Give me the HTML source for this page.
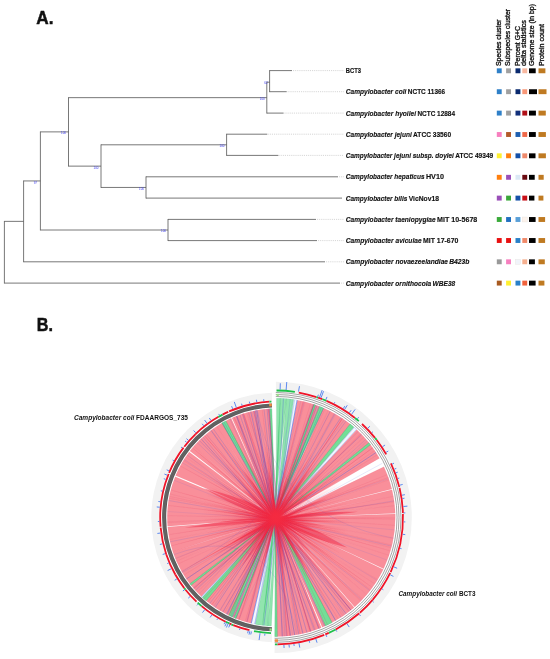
<!DOCTYPE html>
<html><head><meta charset="utf-8"><title>Figure</title>
<style>html,body{margin:0;padding:0;background:#fff}svg{display:block}</style></head>
<body><svg width="550" height="659" viewBox="0 0 550 659">
<rect width="550" height="659" fill="#fff"/>
<g id="tree">
<line x1="4.4" y1="220.97187499999998" x2="4.4" y2="283.5" stroke="#555" stroke-width="0.8"/>
<line x1="4.4" y1="221.371875" x2="23.6" y2="221.371875" stroke="#555" stroke-width="0.8"/>
<line x1="4.4" y1="283.1" x2="340" y2="283.1" stroke="#555" stroke-width="0.8"/>
<line x1="23.6" y1="180.54375" x2="23.6" y2="262.2" stroke="#555" stroke-width="0.8"/>
<line x1="23.6" y1="261.8" x2="325" y2="261.8" stroke="#555" stroke-width="0.8"/>
<line x1="23.6" y1="180.94375" x2="40.4" y2="180.94375" stroke="#555" stroke-width="0.8"/>
<line x1="40.4" y1="131.48749999999998" x2="40.4" y2="230.4" stroke="#555" stroke-width="0.8"/>
<line x1="40.4" y1="230.0" x2="168" y2="230.0" stroke="#555" stroke-width="0.8"/>
<line x1="168" y1="219.0" x2="168" y2="241.0" stroke="#555" stroke-width="0.8"/>
<line x1="168" y1="219.4" x2="316" y2="219.4" stroke="#555" stroke-width="0.8"/>
<line x1="168" y1="240.6" x2="317" y2="240.6" stroke="#555" stroke-width="0.8"/>
<line x1="40.4" y1="131.8875" x2="68.5" y2="131.8875" stroke="#555" stroke-width="0.8"/>
<line x1="68.5" y1="97.25" x2="68.5" y2="166.525" stroke="#555" stroke-width="0.8"/>
<line x1="68.5" y1="97.65" x2="266.8" y2="97.65" stroke="#555" stroke-width="0.8"/>
<line x1="266.8" y1="81.8" x2="266.8" y2="113.5" stroke="#555" stroke-width="0.8"/>
<line x1="266.8" y1="113.1" x2="283.6" y2="113.1" stroke="#555" stroke-width="0.8"/>
<line x1="266.8" y1="82.2" x2="269.6" y2="82.2" stroke="#555" stroke-width="0.8"/>
<line x1="269.6" y1="70.19999999999999" x2="269.6" y2="92.10000000000001" stroke="#555" stroke-width="0.8"/>
<line x1="269.6" y1="70.6" x2="292" y2="70.6" stroke="#555" stroke-width="0.8"/>
<line x1="269.6" y1="91.7" x2="286.7" y2="91.7" stroke="#555" stroke-width="0.8"/>
<line x1="68.5" y1="166.125" x2="101" y2="166.125" stroke="#555" stroke-width="0.8"/>
<line x1="101" y1="144.4" x2="101" y2="187.85" stroke="#555" stroke-width="0.8"/>
<line x1="101" y1="144.8" x2="226.6" y2="144.8" stroke="#555" stroke-width="0.8"/>
<line x1="226.6" y1="133.79999999999998" x2="226.6" y2="155.8" stroke="#555" stroke-width="0.8"/>
<line x1="226.6" y1="134.2" x2="267.3" y2="134.2" stroke="#555" stroke-width="0.8"/>
<line x1="226.6" y1="155.4" x2="278.4" y2="155.4" stroke="#555" stroke-width="0.8"/>
<line x1="101" y1="187.45" x2="146" y2="187.45" stroke="#555" stroke-width="0.8"/>
<line x1="146" y1="176.4" x2="146" y2="198.5" stroke="#555" stroke-width="0.8"/>
<line x1="146" y1="176.8" x2="338" y2="176.8" stroke="#555" stroke-width="0.8"/>
<line x1="146" y1="198.1" x2="342" y2="198.1" stroke="#555" stroke-width="0.8"/>
</g>
<line x1="293" y1="70.6" x2="344" y2="70.6" stroke="#bdbdbd" stroke-width="0.7" stroke-dasharray="0.9 1.0"/>
<line x1="287.7" y1="91.7" x2="344" y2="91.7" stroke="#bdbdbd" stroke-width="0.7" stroke-dasharray="0.9 1.0"/>
<line x1="284.6" y1="113.1" x2="344" y2="113.1" stroke="#bdbdbd" stroke-width="0.7" stroke-dasharray="0.9 1.0"/>
<line x1="268.3" y1="134.2" x2="344" y2="134.2" stroke="#bdbdbd" stroke-width="0.7" stroke-dasharray="0.9 1.0"/>
<line x1="279.4" y1="155.4" x2="344" y2="155.4" stroke="#bdbdbd" stroke-width="0.7" stroke-dasharray="0.9 1.0"/>
<line x1="339" y1="176.8" x2="344" y2="176.8" stroke="#bdbdbd" stroke-width="0.7" stroke-dasharray="0.9 1.0"/>
<line x1="317" y1="219.4" x2="344" y2="219.4" stroke="#bdbdbd" stroke-width="0.7" stroke-dasharray="0.9 1.0"/>
<line x1="318" y1="240.6" x2="344" y2="240.6" stroke="#bdbdbd" stroke-width="0.7" stroke-dasharray="0.9 1.0"/>
<line x1="326" y1="261.8" x2="344" y2="261.8" stroke="#bdbdbd" stroke-width="0.7" stroke-dasharray="0.9 1.0"/>
<line x1="341" y1="283.1" x2="344" y2="283.1" stroke="#bdbdbd" stroke-width="0.7" stroke-dasharray="0.9 1.0"/>
<text x="267.6" y="84.0" font-size="3" fill="#3a3af0" text-anchor="end" font-family="Liberation Sans, sans-serif">62</text>
<text x="264.8" y="100.0" font-size="3" fill="#3a3af0" text-anchor="end" font-family="Liberation Sans, sans-serif">100</text>
<text x="66.0" y="134.3" font-size="3" fill="#3a3af0" text-anchor="end" font-family="Liberation Sans, sans-serif">100</text>
<text x="98.5" y="168.8" font-size="3" fill="#3a3af0" text-anchor="end" font-family="Liberation Sans, sans-serif">100</text>
<text x="224.5" y="147.0" font-size="3" fill="#3a3af0" text-anchor="end" font-family="Liberation Sans, sans-serif">100</text>
<text x="144.0" y="190.0" font-size="3" fill="#3a3af0" text-anchor="end" font-family="Liberation Sans, sans-serif">100</text>
<text x="166.0" y="232.3" font-size="3" fill="#3a3af0" text-anchor="end" font-family="Liberation Sans, sans-serif">100</text>
<text x="37.0" y="183.5" font-size="3" fill="#3a3af0" text-anchor="end" font-family="Liberation Sans, sans-serif">97</text>
<text x="345.8" y="73.0" font-size="8.1" font-weight="bold" font-style="normal" fill="#111" stroke="#111" stroke-width="0.15" textLength="15.2" lengthAdjust="spacingAndGlyphs" font-family="Liberation Sans, sans-serif">BCT3</text>
<text x="345.8" y="94.10000000000001" font-size="8.1" font-weight="bold" font-style="italic" fill="#111" stroke="#111" stroke-width="0.15" textLength="60.5" lengthAdjust="spacingAndGlyphs" font-family="Liberation Sans, sans-serif">Campylobacter coli</text>
<text x="407.8" y="94.10000000000001" font-size="8.1" font-weight="bold" font-style="normal" fill="#111" stroke="#111" stroke-width="0.15" textLength="37.4" lengthAdjust="spacingAndGlyphs" font-family="Liberation Sans, sans-serif">NCTC 11366</text>
<text x="345.8" y="115.5" font-size="8.1" font-weight="bold" font-style="italic" fill="#111" stroke="#111" stroke-width="0.15" textLength="70.2" lengthAdjust="spacingAndGlyphs" font-family="Liberation Sans, sans-serif">Campylobacter hyoilei</text>
<text x="417.4" y="115.5" font-size="8.1" font-weight="bold" font-style="normal" fill="#111" stroke="#111" stroke-width="0.15" textLength="37.6" lengthAdjust="spacingAndGlyphs" font-family="Liberation Sans, sans-serif">NCTC 12884</text>
<text x="345.8" y="136.6" font-size="8.1" font-weight="bold" font-style="italic" fill="#111" stroke="#111" stroke-width="0.15" textLength="65.9" lengthAdjust="spacingAndGlyphs" font-family="Liberation Sans, sans-serif">Campylobacter jejuni</text>
<text x="413.1" y="136.6" font-size="8.1" font-weight="bold" font-style="normal" fill="#111" stroke="#111" stroke-width="0.15" textLength="38.0" lengthAdjust="spacingAndGlyphs" font-family="Liberation Sans, sans-serif">ATCC 33560</text>
<text x="345.8" y="157.8" font-size="8.1" font-weight="bold" font-style="italic" fill="#111" stroke="#111" stroke-width="0.15" textLength="108.1" lengthAdjust="spacingAndGlyphs" font-family="Liberation Sans, sans-serif">Campylobacter jejuni subsp. doylei</text>
<text x="455.3" y="157.8" font-size="8.1" font-weight="bold" font-style="normal" fill="#111" stroke="#111" stroke-width="0.15" textLength="38.0" lengthAdjust="spacingAndGlyphs" font-family="Liberation Sans, sans-serif">ATCC 49349</text>
<text x="345.8" y="179.20000000000002" font-size="8.1" font-weight="bold" font-style="italic" fill="#111" stroke="#111" stroke-width="0.15" textLength="78.7" lengthAdjust="spacingAndGlyphs" font-family="Liberation Sans, sans-serif">Campylobacter hepaticus</text>
<text x="425.9" y="179.20000000000002" font-size="8.1" font-weight="bold" font-style="normal" fill="#111" stroke="#111" stroke-width="0.15" textLength="18.0" lengthAdjust="spacingAndGlyphs" font-family="Liberation Sans, sans-serif">HV10</text>
<text x="345.8" y="200.5" font-size="8.1" font-weight="bold" font-style="italic" fill="#111" stroke="#111" stroke-width="0.15" textLength="61.5" lengthAdjust="spacingAndGlyphs" font-family="Liberation Sans, sans-serif">Campylobacter bilis</text>
<text x="408.7" y="200.5" font-size="8.1" font-weight="bold" font-style="normal" fill="#111" stroke="#111" stroke-width="0.15" textLength="30.2" lengthAdjust="spacingAndGlyphs" font-family="Liberation Sans, sans-serif">VicNov18</text>
<text x="345.8" y="221.8" font-size="8.1" font-weight="bold" font-style="italic" fill="#111" stroke="#111" stroke-width="0.15" textLength="89.8" lengthAdjust="spacingAndGlyphs" font-family="Liberation Sans, sans-serif">Campylobacter taeniopygiae</text>
<text x="437.0" y="221.8" font-size="8.1" font-weight="bold" font-style="normal" fill="#111" stroke="#111" stroke-width="0.15" textLength="40.3" lengthAdjust="spacingAndGlyphs" font-family="Liberation Sans, sans-serif">MIT 10-5678</text>
<text x="345.8" y="243.0" font-size="8.1" font-weight="bold" font-style="italic" fill="#111" stroke="#111" stroke-width="0.15" textLength="75.8" lengthAdjust="spacingAndGlyphs" font-family="Liberation Sans, sans-serif">Campylobacter aviculae</text>
<text x="423.0" y="243.0" font-size="8.1" font-weight="bold" font-style="normal" fill="#111" stroke="#111" stroke-width="0.15" textLength="35.4" lengthAdjust="spacingAndGlyphs" font-family="Liberation Sans, sans-serif">MIT 17-670</text>
<text x="345.8" y="264.2" font-size="8.1" font-weight="bold" font-style="italic" fill="#111" stroke="#111" stroke-width="0.15" textLength="102.2" lengthAdjust="spacingAndGlyphs" font-family="Liberation Sans, sans-serif">Campylobacter novaezeelandiae</text>
<text x="449.2" y="264.2" font-size="8.1" font-weight="bold" font-style="italic" fill="#111" stroke="#111" stroke-width="0.15" textLength="20.3" lengthAdjust="spacingAndGlyphs" font-family="Liberation Sans, sans-serif">B423b</text>
<text x="345.8" y="285.5" font-size="8.1" font-weight="bold" font-style="italic" fill="#111" stroke="#111" stroke-width="0.15" textLength="85.5" lengthAdjust="spacingAndGlyphs" font-family="Liberation Sans, sans-serif">Campylobacter ornithocola</text>
<text x="432.6" y="285.5" font-size="8.1" font-weight="bold" font-style="italic" fill="#111" stroke="#111" stroke-width="0.15" textLength="22.6" lengthAdjust="spacingAndGlyphs" font-family="Liberation Sans, sans-serif">WBE38</text>
<text transform="translate(501.2,66) rotate(-90)" font-size="6.7" fill="#111" stroke="#111" stroke-width="0.32" textLength="46.5" lengthAdjust="spacingAndGlyphs" font-family="Liberation Sans, sans-serif">Species cluster</text>
<text transform="translate(510.4,66) rotate(-90)" font-size="6.7" fill="#111" stroke="#111" stroke-width="0.32" textLength="57" lengthAdjust="spacingAndGlyphs" font-family="Liberation Sans, sans-serif">Subspecies cluster</text>
<text transform="translate(519.8,66) rotate(-90)" font-size="6.7" fill="#111" stroke="#111" stroke-width="0.32" textLength="40" lengthAdjust="spacingAndGlyphs" font-family="Liberation Sans, sans-serif">Percent G+C</text>
<text transform="translate(526.4,66) rotate(-90)" font-size="6.7" fill="#111" stroke="#111" stroke-width="0.32" textLength="46" lengthAdjust="spacingAndGlyphs" font-family="Liberation Sans, sans-serif">delta statistics</text>
<text transform="translate(534.2,66) rotate(-90)" font-size="6.7" fill="#111" stroke="#111" stroke-width="0.32" textLength="62" lengthAdjust="spacingAndGlyphs" font-family="Liberation Sans, sans-serif">Genome size (in bp)</text>
<text transform="translate(543.6,66) rotate(-90)" font-size="6.7" fill="#111" stroke="#111" stroke-width="0.32" textLength="42" lengthAdjust="spacingAndGlyphs" font-family="Liberation Sans, sans-serif">Protein count</text>
<rect x="496.8" y="68.35" width="4.9" height="4.9" fill="#2f80c8"/>
<rect x="506.1" y="68.35" width="4.9" height="4.9" fill="#a0a0a0"/>
<rect x="515.5" y="68.35" width="4.9" height="4.9" fill="#0a2a6e"/>
<rect x="522.3" y="68.35" width="4.9" height="4.9" fill="#f8b8a0"/>
<rect x="529.0" y="68.35" width="6.7" height="4.9" fill="#000"/>
<rect x="538.5" y="68.35" width="6.9" height="4.9" fill="#bf7a22"/>
<rect x="496.8" y="89.25" width="4.9" height="4.9" fill="#2f80c8"/>
<rect x="506.1" y="89.25" width="4.9" height="4.9" fill="#a0a0a0"/>
<rect x="515.5" y="89.25" width="4.9" height="4.9" fill="#0a2a6e"/>
<rect x="522.3" y="89.25" width="4.9" height="4.9" fill="#f89878"/>
<rect x="529.0" y="89.25" width="8.0" height="4.9" fill="#000"/>
<rect x="538.5" y="89.25" width="8.0" height="4.9" fill="#bf7a22"/>
<rect x="496.8" y="110.65" width="4.9" height="4.9" fill="#2f80c8"/>
<rect x="506.1" y="110.65" width="4.9" height="4.9" fill="#a0a0a0"/>
<rect x="515.5" y="110.65" width="4.9" height="4.9" fill="#12307a"/>
<rect x="522.3" y="110.65" width="4.9" height="4.9" fill="#b01018"/>
<rect x="529.0" y="110.65" width="6.9" height="4.9" fill="#000"/>
<rect x="538.5" y="110.65" width="7.3" height="4.9" fill="#bf7a22"/>
<rect x="496.8" y="132.05" width="4.9" height="4.9" fill="#f77fbf"/>
<rect x="506.1" y="132.05" width="4.9" height="4.9" fill="#b35a28"/>
<rect x="515.5" y="132.05" width="4.9" height="4.9" fill="#1e5fb0"/>
<rect x="522.3" y="132.05" width="4.9" height="4.9" fill="#f0694a"/>
<rect x="529.0" y="132.05" width="6.8" height="4.9" fill="#000"/>
<rect x="538.5" y="132.05" width="7.4" height="4.9" fill="#bf7a22"/>
<rect x="496.8" y="153.35" width="4.9" height="4.9" fill="#fff030"/>
<rect x="506.1" y="153.35" width="4.9" height="4.9" fill="#ff7f0e"/>
<rect x="515.5" y="153.35" width="4.9" height="4.9" fill="#1550a8"/>
<rect x="522.3" y="153.35" width="4.9" height="4.9" fill="#ee8a6c"/>
<rect x="529.0" y="153.35" width="6.5" height="4.9" fill="#000"/>
<rect x="538.5" y="153.35" width="7.4" height="4.9" fill="#bf7a22"/>
<rect x="496.8" y="174.85" width="4.9" height="4.9" fill="#ff7f0e"/>
<rect x="506.1" y="174.85" width="4.9" height="4.9" fill="#9a4fb8"/>
<rect x="515.5" y="174.85" width="4.9" height="4.9" fill="#dbe8f5"/>
<rect x="522.3" y="174.85" width="4.9" height="4.9" fill="#6a0a10"/>
<rect x="529.0" y="174.85" width="5.7" height="4.9" fill="#000"/>
<rect x="538.5" y="174.85" width="5.2" height="4.9" fill="#bf7a22"/>
<rect x="496.8" y="195.65" width="4.9" height="4.9" fill="#9a4fb8"/>
<rect x="506.1" y="195.65" width="4.9" height="4.9" fill="#3aa83a"/>
<rect x="515.5" y="195.65" width="4.9" height="4.9" fill="#1550a8"/>
<rect x="522.3" y="195.65" width="4.9" height="4.9" fill="#c81018"/>
<rect x="529.0" y="195.65" width="5.4" height="4.9" fill="#000"/>
<rect x="538.5" y="195.65" width="4.9" height="4.9" fill="#bf7a22"/>
<rect x="496.8" y="217.05" width="4.9" height="4.9" fill="#3aaa3a"/>
<rect x="506.1" y="217.05" width="4.9" height="4.9" fill="#2070c0"/>
<rect x="515.5" y="217.05" width="4.9" height="4.9" fill="#5aa0d8"/>
<rect x="522.3" y="217.05" width="4.9" height="4.9" fill="#fdf3ec" stroke="#e6e2de" stroke-width="0.4"/>
<rect x="529.0" y="217.05" width="6.6" height="4.9" fill="#000"/>
<rect x="538.5" y="217.05" width="6.6" height="4.9" fill="#bf7a22"/>
<rect x="496.8" y="238.05" width="4.9" height="4.9" fill="#e81010"/>
<rect x="506.1" y="238.05" width="4.9" height="4.9" fill="#e81010"/>
<rect x="515.5" y="238.05" width="4.9" height="4.9" fill="#2a80c8"/>
<rect x="522.3" y="238.05" width="4.9" height="4.9" fill="#f08a6a"/>
<rect x="529.0" y="238.05" width="6.6" height="4.9" fill="#000"/>
<rect x="538.5" y="238.05" width="6.6" height="4.9" fill="#bf7a22"/>
<rect x="496.8" y="259.35" width="4.9" height="4.9" fill="#999999"/>
<rect x="506.1" y="259.35" width="4.9" height="4.9" fill="#f77fbf"/>
<rect x="515.5" y="259.35" width="4.9" height="4.9" fill="#f1f4fa" stroke="#e6e2de" stroke-width="0.4"/>
<rect x="522.3" y="259.35" width="4.9" height="4.9" fill="#f5b090"/>
<rect x="529.0" y="259.35" width="5.9" height="4.9" fill="#000"/>
<rect x="538.5" y="259.35" width="6.3" height="4.9" fill="#bf7a22"/>
<rect x="496.8" y="280.65" width="4.9" height="4.9" fill="#a85a20"/>
<rect x="506.1" y="280.65" width="4.9" height="4.9" fill="#fff030"/>
<rect x="515.5" y="280.65" width="4.9" height="4.9" fill="#2a80c8"/>
<rect x="522.3" y="280.65" width="4.9" height="4.9" fill="#f0623c"/>
<rect x="529.0" y="280.65" width="6.6" height="4.9" fill="#000"/>
<rect x="538.5" y="280.65" width="5.9" height="4.9" fill="#bf7a22"/>
<text x="36.3" y="24.1" font-size="17.6" font-weight="bold" fill="#111" stroke="#111" stroke-width="0.45" textLength="17.2" lengthAdjust="spacingAndGlyphs" font-family="Liberation Sans, sans-serif">A.</text>
<text x="36.8" y="331.4" font-size="17.6" font-weight="bold" fill="#111" stroke="#111" stroke-width="0.45" textLength="16.2" lengthAdjust="spacingAndGlyphs" font-family="Liberation Sans, sans-serif">B.</text>
<text x="74" y="420.4" font-size="8.1" font-weight="bold" fill="#111" textLength="114" lengthAdjust="spacingAndGlyphs" xml:space="preserve" font-family="Liberation Sans, sans-serif"><tspan font-style="italic">Campylobacter coli</tspan> FDAARGOS_735</text>
<text x="398.5" y="595.8" font-size="8.1" font-weight="bold" fill="#111" textLength="77" lengthAdjust="spacingAndGlyphs" xml:space="preserve" font-family="Liberation Sans, sans-serif"><tspan font-style="italic">Campylobacter coli</tspan> BCT3</text>
<defs><clipPath id="cl"><rect x="0" y="300" width="271.9" height="359"/></clipPath><clipPath id="cr"><polygon points="275.95,370 560,370 560,659 274.55,659"/></clipPath><clipPath id="call"><rect x="0" y="300" width="271.9" height="359"/><polygon points="275.95,370 560,370 560,659 274.55,659"/></clipPath></defs>
<g clip-path="url(#cl)">
<circle cx="276.1" cy="517.4" r="124.8" fill="#f2f2f2"/>
<circle cx="276.1" cy="517.4" r="115.2" fill="#fff"/>
<circle cx="276.1" cy="517.4" r="111.95" fill="none" stroke="#5c5c5c" stroke-width="4.099999999999994"/>
<circle cx="276.1" cy="517.4" r="111.5" fill="none" stroke="#7a7a7a" stroke-width="0.35"/>
<circle cx="276.1" cy="517.4" r="113.10000000000001" fill="none" stroke="#7a7a7a" stroke-width="0.35"/>
</g>
<g clip-path="url(#cr)">
<circle cx="276.1" cy="517.4" r="135.7" fill="#f2f2f2"/>
<circle cx="276.1" cy="517.4" r="126.2" fill="#fff"/>
<circle cx="276.1" cy="517.4" r="120.95" fill="none" stroke="#585858" stroke-width="0.55"/>
<circle cx="276.1" cy="517.4" r="122.92500000000001" fill="none" stroke="#585858" stroke-width="0.55"/>
<circle cx="276.1" cy="517.4" r="124.9" fill="none" stroke="#585858" stroke-width="0.55"/>
</g>
<g clip-path="url(#call)">
<path d="M276.54 390.50A126.9 126.9 0 0 1 294.86 391.89" fill="none" stroke="#1fc04a" stroke-width="1.7999999999999972" />
<path d="M271.04 633.19A115.9 115.9 0 0 1 253.99 631.17" fill="none" stroke="#1fc04a" stroke-width="1.7999999999999972" />
<path d="M298.79 392.54A126.9 126.9 0 0 1 316.37 397.06" fill="none" stroke="#f01428" stroke-width="1.7999999999999972" />
<path d="M249.44 630.19A115.9 115.9 0 0 1 233.25 625.09" fill="none" stroke="#f01428" stroke-width="1.7999999999999972" />
<path d="M316.37 397.06A126.9 126.9 0 0 1 318.04 397.63" fill="none" stroke="#1fc04a" stroke-width="1.7999999999999972" />
<path d="M233.25 625.09A115.9 115.9 0 0 1 231.37 624.32" fill="none" stroke="#1fc04a" stroke-width="1.7999999999999972" />
<path d="M318.04 397.63A126.9 126.9 0 0 1 322.40 399.25" fill="none" stroke="#f01428" stroke-width="1.7999999999999972" />
<path d="M231.37 624.32A115.9 115.9 0 0 1 229.33 623.44" fill="none" stroke="#f01428" stroke-width="1.7999999999999972" />
<path d="M322.40 399.25A126.9 126.9 0 0 1 326.50 400.94" fill="none" stroke="#1fc04a" stroke-width="1.7999999999999972" />
<path d="M229.33 623.44A115.9 115.9 0 0 1 225.66 621.75" fill="none" stroke="#1fc04a" stroke-width="1.7999999999999972" />
<path d="M326.50 400.94A126.9 126.9 0 0 1 354.92 417.95" fill="none" stroke="#f01428" stroke-width="1.7999999999999972" />
<path d="M225.66 621.75A115.9 115.9 0 0 1 201.60 606.18" fill="none" stroke="#f01428" stroke-width="1.7999999999999972" />
<path d="M354.92 417.95A126.9 126.9 0 0 1 358.85 421.19" fill="none" stroke="#1fc04a" stroke-width="1.7999999999999972" />
<path d="M201.60 606.18A115.9 115.9 0 0 1 197.65 602.71" fill="none" stroke="#1fc04a" stroke-width="1.7999999999999972" />
<path d="M362.00 423.99A126.9 126.9 0 0 1 375.00 437.88" fill="none" stroke="#f01428" stroke-width="1.7999999999999972" />
<path d="M196.47 601.61A115.9 115.9 0 0 1 185.52 589.71" fill="none" stroke="#f01428" stroke-width="1.7999999999999972" />
<path d="M375.00 437.88A126.9 126.9 0 0 1 376.64 439.97" fill="none" stroke="#1fc04a" stroke-width="1.7999999999999972" />
<path d="M185.52 589.71A115.9 115.9 0 0 1 184.27 588.12" fill="none" stroke="#1fc04a" stroke-width="1.7999999999999972" />
<path d="M376.64 439.97A126.9 126.9 0 0 1 386.22 454.33" fill="none" stroke="#f01428" stroke-width="1.7999999999999972" />
<path d="M184.27 588.12A115.9 115.9 0 0 1 175.43 574.82" fill="none" stroke="#f01428" stroke-width="1.7999999999999972" />
<path d="M390.92 463.37A126.9 126.9 0 0 1 399.34 487.13" fill="none" stroke="#f01428" stroke-width="1.7999999999999972" />
<path d="M175.43 574.82A115.9 115.9 0 0 1 166.19 554.18" fill="none" stroke="#f01428" stroke-width="1.7999999999999972" />
<path d="M399.55 487.99A126.9 126.9 0 0 1 402.92 512.97" fill="none" stroke="#f01428" stroke-width="1.7999999999999972" />
<path d="M166.19 554.18A115.9 115.9 0 0 1 160.66 527.70" fill="none" stroke="#f01428" stroke-width="1.7999999999999972" />
<path d="M402.95 513.86A126.9 126.9 0 0 1 390.64 572.03" fill="none" stroke="#f01428" stroke-width="1.7999999999999972" />
<path d="M160.57 526.70A115.9 115.9 0 0 1 168.64 473.98" fill="none" stroke="#f01428" stroke-width="1.7999999999999972" />
<path d="M390.21 572.93A126.9 126.9 0 0 1 372.60 599.81" fill="none" stroke="#f01428" stroke-width="1.7999999999999972" />
<path d="M169.10 472.86A115.9 115.9 0 0 1 183.54 447.65" fill="none" stroke="#f01428" stroke-width="1.7999999999999972" />
<path d="M372.60 599.81A126.9 126.9 0 0 1 359.85 612.74" fill="none" stroke="#f01428" stroke-width="1.7999999999999972" />
<path d="M184.27 446.68A115.9 115.9 0 0 1 195.59 434.03" fill="none" stroke="#f01428" stroke-width="1.7999999999999972" />
<path d="M359.27 613.25A126.9 126.9 0 0 1 335.68 629.45" fill="none" stroke="#f01428" stroke-width="1.7999999999999972" />
<path d="M195.59 434.03A115.9 115.9 0 0 1 218.50 416.83" fill="none" stroke="#f01428" stroke-width="1.7999999999999972" />
<path d="M335.68 629.45A126.9 126.9 0 0 1 328.72 632.87" fill="none" stroke="#1fc04a" stroke-width="1.7999999999999972" />
<path d="M218.33 416.93A115.9 115.9 0 0 1 222.58 414.60" fill="none" stroke="#1fc04a" stroke-width="1.7999999999999972" />
<path d="M328.72 632.87A126.9 126.9 0 0 1 325.28 634.38" fill="none" stroke="#f01428" stroke-width="1.7999999999999972" />
<path d="M222.58 414.60A115.9 115.9 0 0 1 228.22 411.85" fill="none" stroke="#f01428" stroke-width="1.7999999999999972" />
<path d="M324.25 634.81A126.9 126.9 0 0 1 277.43 644.29" fill="none" stroke="#f01428" stroke-width="1.7999999999999972" />
<path d="M229.14 411.44A115.9 115.9 0 0 1 269.43 401.69" fill="none" stroke="#f01428" stroke-width="1.7999999999999972" />
<path d="M277.43 644.29A126.9 126.9 0 0 1 274.77 644.29" fill="none" stroke="#1fc04a" stroke-width="1.7999999999999972" />
<path d="M269.43 401.69A115.9 115.9 0 0 1 271.45 401.59" fill="none" stroke="#1fc04a" stroke-width="1.7999999999999972" />
</g>
<g>
<path d="M297.40 400.17A119.15 119.15 0 0 1 313.91 404.41Q276.10 517.40 235.87 618.49A108.8 108.8 0 0 0 251.07 623.28Q276.10 517.40 297.40 400.17Z" fill="rgba(245,40,62,0.40)"/>
<path d="M315.48 404.95A119.15 119.15 0 0 1 319.58 406.46Q276.10 517.40 232.19 616.95A108.8 108.8 0 0 0 234.11 617.77Q276.10 517.40 315.48 404.95Z" fill="rgba(245,40,62,0.40)"/>
<path d="M323.42 408.05A119.15 119.15 0 0 1 350.11 424.02Q276.10 517.40 206.16 600.75A108.8 108.8 0 0 0 228.75 615.35Q276.10 517.40 323.42 408.05Z" fill="rgba(245,40,62,0.40)"/>
<path d="M356.75 429.69A119.15 119.15 0 0 1 368.96 442.74Q276.10 517.40 191.07 585.28A108.8 108.8 0 0 0 201.34 596.45Q276.10 517.40 356.75 429.69Z" fill="rgba(245,40,62,0.40)"/>
<path d="M370.50 444.70A119.15 119.15 0 0 1 379.49 458.19Q276.10 517.40 181.59 571.31A108.8 108.8 0 0 0 189.90 583.78Q276.10 517.40 370.50 444.70Z" fill="rgba(245,40,62,0.40)"/>
<path d="M383.91 466.67A119.15 119.15 0 0 1 391.81 488.98Q276.10 517.40 172.92 551.92A108.8 108.8 0 0 0 181.59 571.31Q276.10 517.40 383.91 466.67Z" fill="rgba(245,40,62,0.40)"/>
<path d="M392.01 489.79A119.15 119.15 0 0 1 395.18 513.24Q276.10 517.40 167.73 527.07A108.8 108.8 0 0 0 172.92 551.92Q276.10 517.40 392.01 489.79Z" fill="rgba(245,40,62,0.40)"/>
<path d="M395.20 514.07A119.15 119.15 0 0 1 383.64 568.70Q276.10 517.40 175.22 476.64A108.8 108.8 0 0 0 167.65 526.13Q276.10 517.40 395.20 514.07Z" fill="rgba(245,40,62,0.40)"/>
<path d="M383.24 569.54A119.15 119.15 0 0 1 366.70 594.78Q276.10 517.40 189.21 451.92A108.8 108.8 0 0 0 175.65 475.59Q276.10 517.40 383.24 569.54Z" fill="rgba(245,40,62,0.40)"/>
<path d="M366.70 594.78A119.15 119.15 0 0 1 354.74 606.91Q276.10 517.40 200.52 439.14A108.8 108.8 0 0 0 189.90 451.02Q276.10 517.40 366.70 594.78Z" fill="rgba(245,40,62,0.40)"/>
<path d="M354.19 607.39A119.15 119.15 0 0 1 332.04 622.60Q276.10 517.40 222.03 422.99A108.8 108.8 0 0 0 200.52 439.14Q276.10 517.40 354.19 607.39Z" fill="rgba(245,40,62,0.40)"/>
<path d="M325.51 625.82A119.15 119.15 0 0 1 322.27 627.24Q276.10 517.40 231.15 418.32A108.8 108.8 0 0 0 225.86 420.89Q276.10 517.40 325.51 625.82Z" fill="rgba(245,40,62,0.40)"/>
<path d="M321.31 627.64A119.15 119.15 0 0 1 277.35 636.54Q276.10 517.40 269.84 408.78A108.8 108.8 0 0 0 232.02 417.93Q276.10 517.40 321.31 627.64Z" fill="rgba(245,40,62,0.40)"/>
<path d="M276.52 398.25A119.15 119.15 0 0 1 280.30 398.32Q276.96 519.37 267.79 625.88A108.8 108.8 0 0 0 271.35 626.10Q276.96 519.37 276.52 398.25Z" fill="rgba(45,205,100,0.52)" stroke="rgba(30,150,90,0.45)" stroke-width="0.3"/>
<path d="M280.30 398.32A119.15 119.15 0 0 1 286.40 398.70Q274.27 515.45 262.51 625.35A108.8 108.8 0 0 0 267.79 625.88Q274.27 515.45 280.30 398.32Z" fill="rgba(45,205,100,0.52)" stroke="rgba(30,150,90,0.45)" stroke-width="0.3"/>
<path d="M286.40 398.70A119.15 119.15 0 0 1 293.71 399.56Q277.47 518.32 255.34 624.20A108.8 108.8 0 0 0 262.51 625.35Q277.47 518.32 286.40 398.70Z" fill="rgba(45,205,100,0.52)" stroke="rgba(30,150,90,0.45)" stroke-width="0.3"/>
<path d="M313.91 404.41A119.15 119.15 0 0 1 315.48 404.95Q276.46 518.32 234.11 617.77A108.8 108.8 0 0 0 235.87 618.49Q276.46 518.32 313.91 404.41Z" fill="rgba(45,205,100,0.52)" stroke="rgba(30,150,90,0.45)" stroke-width="0.3"/>
<path d="M319.58 406.46A119.15 119.15 0 0 1 323.42 408.05Q274.51 517.21 228.75 615.35A108.8 108.8 0 0 0 232.19 616.95Q274.51 517.21 319.58 406.46Z" fill="rgba(45,205,100,0.52)" stroke="rgba(30,150,90,0.45)" stroke-width="0.3"/>
<path d="M350.11 424.02A119.15 119.15 0 0 1 353.80 427.07Q277.26 516.67 202.46 597.49A108.8 108.8 0 0 0 206.16 600.75Q277.26 516.67 350.11 424.02Z" fill="rgba(45,205,100,0.52)" stroke="rgba(30,150,90,0.45)" stroke-width="0.3"/>
<path d="M368.96 442.74A119.15 119.15 0 0 1 370.50 444.70Q276.49 517.69 189.90 583.78A108.8 108.8 0 0 0 191.07 585.28Q276.49 517.69 368.96 442.74Z" fill="rgba(45,205,100,0.52)" stroke="rgba(30,150,90,0.45)" stroke-width="0.3"/>
<path d="M332.04 622.60A119.15 119.15 0 0 1 325.51 625.82Q277.62 517.69 225.86 420.89A108.8 108.8 0 0 0 221.86 423.08Q277.62 517.69 332.04 622.60Z" fill="rgba(45,205,100,0.52)" stroke="rgba(30,150,90,0.45)" stroke-width="0.3"/>
<path d="M277.35 636.54A119.15 119.15 0 0 1 274.85 636.54Q275.96 518.21 271.73 408.69A108.8 108.8 0 0 0 269.84 408.78Q275.96 518.21 277.35 636.54Z" fill="rgba(45,205,100,0.52)" stroke="rgba(30,150,90,0.45)" stroke-width="0.3"/>
<path d="M294.33 399.65A119.15 119.15 0 0 1 297.20 400.13Q275.10 517.72 251.44 623.37A108.8 108.8 0 0 0 254.78 624.09Q275.10 517.72 294.33 399.65Z" fill="rgba(90,140,240,0.07)" stroke="rgba(70,110,235,0.35)" stroke-width="0.3"/>
<path d="M354.27 427.48A119.15 119.15 0 0 1 356.44 429.41Q275.37 519.08 201.48 596.58A108.8 108.8 0 0 0 202.18 597.23Q275.37 519.08 354.27 427.48Z" fill="rgba(90,140,240,0.07)" stroke="rgba(70,110,235,0.75)" stroke-width="0.35"/>
<path d="M297.40 400.17A119.15 119.15 0 0 1 304.98 401.80Q275.43 516.43 245.15 621.71A108.8 108.8 0 0 0 251.07 623.28Q275.43 516.43 297.40 400.17Z" fill="rgba(245,40,62,0.20)" stroke="rgba(200,30,80,0.18)" stroke-width="0.22"/>
<path d="M304.98 401.80A119.15 119.15 0 0 1 310.65 403.37Q276.20 517.55 238.39 619.46A108.8 108.8 0 0 0 245.15 621.71Q276.20 517.55 304.98 401.80Z" fill="rgba(245,40,62,0.20)" stroke="rgba(200,30,80,0.18)" stroke-width="0.22"/>
<path d="M310.65 403.37A119.15 119.15 0 0 1 313.91 404.41Q275.74 517.34 235.87 618.49A108.8 108.8 0 0 0 238.39 619.46Q275.74 517.34 310.65 403.37Z" fill="rgba(245,40,62,0.20)" stroke="rgba(200,30,80,0.18)" stroke-width="0.22"/>
<path d="M315.48 404.95A119.15 119.15 0 0 1 319.58 406.46Q274.82 517.90 232.19 616.95A108.8 108.8 0 0 0 234.11 617.77Q274.82 517.90 315.48 404.95Z" fill="rgba(245,40,62,0.20)" stroke="rgba(200,30,80,0.18)" stroke-width="0.22"/>
<path d="M323.42 408.05A119.15 119.15 0 0 1 325.03 408.76Q276.00 517.79 227.47 614.73A108.8 108.8 0 0 0 228.75 615.35Q276.00 517.79 323.42 408.05Z" fill="rgba(245,40,62,0.20)" stroke="rgba(200,30,80,0.18)" stroke-width="0.22"/>
<path d="M325.03 408.76A119.15 119.15 0 0 1 328.37 410.33Q276.20 516.46 224.44 613.15A108.8 108.8 0 0 0 227.47 614.73Q276.20 516.46 325.03 408.76Z" fill="rgba(245,40,62,0.20)" stroke="rgba(200,30,80,0.18)" stroke-width="0.22"/>
<path d="M328.37 410.33A119.15 119.15 0 0 1 330.59 411.44Q276.63 516.63 222.98 612.35A108.8 108.8 0 0 0 224.44 613.15Q276.63 516.63 328.37 410.33Z" fill="rgba(245,40,62,0.20)" stroke="rgba(200,30,80,0.18)" stroke-width="0.22"/>
<path d="M330.59 411.44A119.15 119.15 0 0 1 334.20 413.38Q277.43 517.04 220.21 610.75A108.8 108.8 0 0 0 222.98 612.35Q277.43 517.04 330.59 411.44Z" fill="rgba(245,40,62,0.20)" stroke="rgba(200,30,80,0.18)" stroke-width="0.22"/>
<path d="M334.20 413.38A119.15 119.15 0 0 1 350.11 424.02Q276.79 517.40 206.16 600.75A108.8 108.8 0 0 0 220.21 610.75Q276.79 517.40 334.20 413.38Z" fill="rgba(245,40,62,0.20)" stroke="rgba(200,30,80,0.18)" stroke-width="0.22"/>
<path d="M356.75 429.69A119.15 119.15 0 0 1 361.48 434.29Q276.84 517.85 196.97 592.07A108.8 108.8 0 0 0 201.34 596.45Q276.84 517.85 356.75 429.69Z" fill="rgba(245,40,62,0.20)" stroke="rgba(200,30,80,0.18)" stroke-width="0.22"/>
<path d="M361.48 434.29A119.15 119.15 0 0 1 364.06 437.03Q277.37 517.11 194.76 589.65A108.8 108.8 0 0 0 196.97 592.07Q277.37 517.11 361.48 434.29Z" fill="rgba(245,40,62,0.20)" stroke="rgba(200,30,80,0.18)" stroke-width="0.22"/>
<path d="M364.06 437.03A119.15 119.15 0 0 1 368.96 442.74Q276.65 517.90 191.07 585.28A108.8 108.8 0 0 0 194.76 589.65Q276.65 517.90 364.06 437.03Z" fill="rgba(245,40,62,0.20)" stroke="rgba(200,30,80,0.18)" stroke-width="0.22"/>
<path d="M370.50 444.70A119.15 119.15 0 0 1 374.77 450.61Q276.92 518.28 186.39 578.96A108.8 108.8 0 0 0 189.90 583.78Q276.92 518.28 370.50 444.70Z" fill="rgba(245,40,62,0.20)" stroke="rgba(200,30,80,0.18)" stroke-width="0.22"/>
<path d="M374.77 450.61A119.15 119.15 0 0 1 377.45 454.74Q276.82 518.05 183.83 575.05A108.8 108.8 0 0 0 186.39 578.96Q276.82 518.05 374.77 450.61Z" fill="rgba(245,40,62,0.20)" stroke="rgba(200,30,80,0.18)" stroke-width="0.22"/>
<path d="M377.45 454.74A119.15 119.15 0 0 1 379.49 458.19Q276.28 518.16 181.59 571.31A108.8 108.8 0 0 0 183.83 575.05Q276.28 518.16 377.45 454.74Z" fill="rgba(245,40,62,0.20)" stroke="rgba(200,30,80,0.18)" stroke-width="0.22"/>
<path d="M383.91 466.67A119.15 119.15 0 0 1 387.31 474.63Q277.31 518.28 177.81 564.06A108.8 108.8 0 0 0 181.59 571.31Q277.31 518.28 383.91 466.67Z" fill="rgba(245,40,62,0.20)" stroke="rgba(200,30,80,0.18)" stroke-width="0.22"/>
<path d="M387.31 474.63A119.15 119.15 0 0 1 388.36 477.47Q276.27 518.14 176.49 561.16A108.8 108.8 0 0 0 177.81 564.06Q276.27 518.14 387.31 474.63Z" fill="rgba(245,40,62,0.20)" stroke="rgba(200,30,80,0.18)" stroke-width="0.22"/>
<path d="M388.36 477.47A119.15 119.15 0 0 1 389.18 479.85Q276.22 516.55 175.47 558.76A108.8 108.8 0 0 0 176.49 561.16Q276.22 516.55 388.36 477.47Z" fill="rgba(245,40,62,0.20)" stroke="rgba(200,30,80,0.18)" stroke-width="0.22"/>
<path d="M389.18 479.85A119.15 119.15 0 0 1 391.81 488.98Q275.98 517.79 172.92 551.92A108.8 108.8 0 0 0 175.47 558.76Q275.98 517.79 389.18 479.85Z" fill="rgba(245,40,62,0.20)" stroke="rgba(200,30,80,0.18)" stroke-width="0.22"/>
<path d="M392.01 489.79A119.15 119.15 0 0 1 393.38 496.36Q274.85 516.77 171.09 545.87A108.8 108.8 0 0 0 172.92 551.92Q274.85 516.77 392.01 489.79Z" fill="rgba(245,40,62,0.20)" stroke="rgba(200,30,80,0.18)" stroke-width="0.22"/>
<path d="M393.38 496.36A119.15 119.15 0 0 1 394.22 501.77Q276.34 517.94 169.57 539.52A108.8 108.8 0 0 0 171.09 545.87Q276.34 517.94 393.38 496.36Z" fill="rgba(245,40,62,0.20)" stroke="rgba(200,30,80,0.18)" stroke-width="0.22"/>
<path d="M394.22 501.77A119.15 119.15 0 0 1 394.67 505.70Q277.24 516.66 168.68 534.66A108.8 108.8 0 0 0 169.57 539.52Q277.24 516.66 394.22 501.77Z" fill="rgba(245,40,62,0.20)" stroke="rgba(200,30,80,0.18)" stroke-width="0.22"/>
<path d="M394.67 505.70A119.15 119.15 0 0 1 395.18 513.24Q276.10 518.05 167.73 527.07A108.8 108.8 0 0 0 168.68 534.66Q276.10 518.05 394.67 505.70Z" fill="rgba(245,40,62,0.20)" stroke="rgba(200,30,80,0.18)" stroke-width="0.22"/>
<path d="M395.20 514.07A119.15 119.15 0 0 1 395.25 517.90Q276.75 517.70 167.43 522.81A108.8 108.8 0 0 0 167.65 526.13Q276.75 517.70 395.20 514.07Z" fill="rgba(245,40,62,0.20)" stroke="rgba(200,30,80,0.18)" stroke-width="0.22"/>
<path d="M395.25 517.90A119.15 119.15 0 0 1 395.24 519.17Q274.81 516.90 167.39 521.79A108.8 108.8 0 0 0 167.43 522.81Q274.81 516.90 395.25 517.90Z" fill="rgba(245,40,62,0.20)" stroke="rgba(200,30,80,0.18)" stroke-width="0.22"/>
<path d="M395.24 519.17A119.15 119.15 0 0 1 394.98 525.37Q275.50 516.88 167.31 515.60A108.8 108.8 0 0 0 167.39 521.79Q275.50 516.88 395.24 519.17Z" fill="rgba(245,40,62,0.20)" stroke="rgba(200,30,80,0.18)" stroke-width="0.22"/>
<path d="M394.98 525.37A119.15 119.15 0 0 1 393.38 538.44Q276.69 517.06 167.97 505.33A108.8 108.8 0 0 0 167.31 515.60Q276.69 517.06 394.98 525.37Z" fill="rgba(245,40,62,0.20)" stroke="rgba(200,30,80,0.18)" stroke-width="0.22"/>
<path d="M393.38 538.44A119.15 119.15 0 0 1 391.97 545.15Q276.87 517.48 169.00 498.25A108.8 108.8 0 0 0 167.97 505.33Q276.87 517.48 393.38 538.44Z" fill="rgba(245,40,62,0.20)" stroke="rgba(200,30,80,0.18)" stroke-width="0.22"/>
<path d="M391.97 545.15A119.15 119.15 0 0 1 391.34 547.69Q275.75 517.52 169.34 496.41A108.8 108.8 0 0 0 169.00 498.25Q275.75 517.52 391.97 545.15Z" fill="rgba(245,40,62,0.20)" stroke="rgba(200,30,80,0.18)" stroke-width="0.22"/>
<path d="M391.34 547.69A119.15 119.15 0 0 1 390.43 550.94Q276.51 518.21 169.85 493.98A108.8 108.8 0 0 0 169.34 496.41Q276.51 518.21 391.34 547.69Z" fill="rgba(245,40,62,0.20)" stroke="rgba(200,30,80,0.18)" stroke-width="0.22"/>
<path d="M390.43 550.94A119.15 119.15 0 0 1 389.04 555.36Q275.61 517.16 170.80 490.01A108.8 108.8 0 0 0 169.85 493.98Q275.61 517.16 390.43 550.94Z" fill="rgba(245,40,62,0.20)" stroke="rgba(200,30,80,0.18)" stroke-width="0.22"/>
<path d="M389.04 555.36A119.15 119.15 0 0 1 383.64 568.70Q275.18 518.48 175.22 476.64A108.8 108.8 0 0 0 170.80 490.01Q275.18 518.48 389.04 555.36Z" fill="rgba(245,40,62,0.20)" stroke="rgba(200,30,80,0.18)" stroke-width="0.22"/>
<path d="M383.24 569.54A119.15 119.15 0 0 1 377.67 579.70Q277.29 517.56 180.24 465.93A108.8 108.8 0 0 0 175.65 475.59Q277.29 517.56 383.24 569.54Z" fill="rgba(245,40,62,0.20)" stroke="rgba(200,30,80,0.18)" stroke-width="0.22"/>
<path d="M377.67 579.70A119.15 119.15 0 0 1 374.89 584.01Q274.83 517.54 183.41 460.42A108.8 108.8 0 0 0 180.24 465.93Q274.83 517.54 377.67 579.70Z" fill="rgba(245,40,62,0.20)" stroke="rgba(200,30,80,0.18)" stroke-width="0.22"/>
<path d="M374.89 584.01A119.15 119.15 0 0 1 372.36 587.62Q275.47 518.76 185.63 456.97A108.8 108.8 0 0 0 183.41 460.42Q275.47 518.76 374.89 584.01Z" fill="rgba(245,40,62,0.20)" stroke="rgba(200,30,80,0.18)" stroke-width="0.22"/>
<path d="M372.36 587.62A119.15 119.15 0 0 1 370.55 590.04Q277.09 517.90 186.98 454.98A108.8 108.8 0 0 0 185.63 456.97Q277.09 517.90 372.36 587.62Z" fill="rgba(245,40,62,0.20)" stroke="rgba(200,30,80,0.18)" stroke-width="0.22"/>
<path d="M370.55 590.04A119.15 119.15 0 0 1 366.70 594.78Q275.98 515.98 189.21 451.92A108.8 108.8 0 0 0 186.98 454.98Q275.98 515.98 370.55 590.04Z" fill="rgba(245,40,62,0.20)" stroke="rgba(200,30,80,0.18)" stroke-width="0.22"/>
<path d="M366.70 594.78A119.15 119.15 0 0 1 362.81 599.12Q277.24 516.58 192.41 447.87A108.8 108.8 0 0 0 189.90 451.02Q277.24 516.58 366.70 594.78Z" fill="rgba(245,40,62,0.20)" stroke="rgba(200,30,80,0.18)" stroke-width="0.22"/>
<path d="M362.81 599.12A119.15 119.15 0 0 1 360.83 601.17Q274.94 518.06 193.95 446.07A108.8 108.8 0 0 0 192.41 447.87Q274.94 518.06 362.81 599.12Z" fill="rgba(245,40,62,0.20)" stroke="rgba(200,30,80,0.18)" stroke-width="0.22"/>
<path d="M360.83 601.17A119.15 119.15 0 0 1 354.74 606.91Q276.84 516.54 200.52 439.14A108.8 108.8 0 0 0 193.95 446.07Q276.84 516.54 360.83 601.17Z" fill="rgba(245,40,62,0.20)" stroke="rgba(200,30,80,0.18)" stroke-width="0.22"/>
<path d="M354.19 607.39A119.15 119.15 0 0 1 348.69 611.89Q275.97 516.47 206.05 434.15A108.8 108.8 0 0 0 200.52 439.14Q275.97 516.47 354.19 607.39Z" fill="rgba(245,40,62,0.20)" stroke="rgba(200,30,80,0.18)" stroke-width="0.22"/>
<path d="M348.69 611.89A119.15 119.15 0 0 1 342.92 616.05Q275.99 516.26 211.41 429.92A108.8 108.8 0 0 0 206.05 434.15Q275.99 516.26 348.69 611.89Z" fill="rgba(245,40,62,0.20)" stroke="rgba(200,30,80,0.18)" stroke-width="0.22"/>
<path d="M342.92 616.05A119.15 119.15 0 0 1 338.25 619.05Q274.82 517.90 216.80 426.18A108.8 108.8 0 0 0 211.41 429.92Q274.82 517.90 342.92 616.05Z" fill="rgba(245,40,62,0.20)" stroke="rgba(200,30,80,0.18)" stroke-width="0.22"/>
<path d="M338.25 619.05A119.15 119.15 0 0 1 332.04 622.60Q277.22 518.05 222.03 422.99A108.8 108.8 0 0 0 216.80 426.18Q277.22 518.05 338.25 619.05Z" fill="rgba(245,40,62,0.20)" stroke="rgba(200,30,80,0.18)" stroke-width="0.22"/>
<path d="M325.51 625.82A119.15 119.15 0 0 1 322.27 627.24Q275.76 516.40 231.15 418.32A108.8 108.8 0 0 0 225.86 420.89Q275.76 516.40 325.51 625.82Z" fill="rgba(245,40,62,0.20)" stroke="rgba(200,30,80,0.18)" stroke-width="0.22"/>
<path d="M321.31 627.64A119.15 119.15 0 0 1 318.71 628.67Q276.41 518.33 234.50 416.87A108.8 108.8 0 0 0 232.02 417.93Q276.41 518.33 321.31 627.64Z" fill="rgba(245,40,62,0.20)" stroke="rgba(200,30,80,0.18)" stroke-width="0.22"/>
<path d="M318.71 628.67A119.15 119.15 0 0 1 315.78 629.75Q276.59 516.05 237.57 415.65A108.8 108.8 0 0 0 234.50 416.87Q276.59 516.05 318.71 628.67Z" fill="rgba(245,40,62,0.20)" stroke="rgba(200,30,80,0.18)" stroke-width="0.22"/>
<path d="M315.78 629.75A119.15 119.15 0 0 1 309.58 631.75Q276.78 516.76 242.37 413.96A108.8 108.8 0 0 0 237.57 415.65Q276.78 516.76 315.78 629.75Z" fill="rgba(245,40,62,0.20)" stroke="rgba(200,30,80,0.18)" stroke-width="0.22"/>
<path d="M309.58 631.75A119.15 119.15 0 0 1 302.77 633.53Q275.37 516.98 246.80 412.62A108.8 108.8 0 0 0 242.37 413.96Q275.37 516.98 309.58 631.75Z" fill="rgba(245,40,62,0.20)" stroke="rgba(200,30,80,0.18)" stroke-width="0.22"/>
<path d="M302.77 633.53A119.15 119.15 0 0 1 297.72 634.57Q276.79 518.20 251.73 411.36A108.8 108.8 0 0 0 246.80 412.62Q276.79 518.20 302.77 633.53Z" fill="rgba(245,40,62,0.20)" stroke="rgba(200,30,80,0.18)" stroke-width="0.22"/>
<path d="M297.72 634.57A119.15 119.15 0 0 1 284.49 636.25Q276.82 516.22 262.19 409.49A108.8 108.8 0 0 0 251.73 411.36Q276.82 516.22 297.72 634.57Z" fill="rgba(245,40,62,0.20)" stroke="rgba(200,30,80,0.18)" stroke-width="0.22"/>
<path d="M284.49 636.25A119.15 119.15 0 0 1 277.35 636.54Q275.75 515.98 269.84 408.78A108.8 108.8 0 0 0 262.19 409.49Q275.75 515.98 284.49 636.25Z" fill="rgba(245,40,62,0.20)" stroke="rgba(200,30,80,0.18)" stroke-width="0.22"/>
<path d="M297.1 400.1Q276.3 518.3 251.3 623.3" fill="none" stroke="rgba(60,100,235,0.9)" stroke-width="0.60"/>
<path d="M294.7 399.7Q275.4 516.7 255.0 624.1" fill="none" stroke="rgba(60,100,235,0.5)" stroke-width="0.40"/>
<path d="M283.4 398.5Q279.3 516.2 263.8 625.5" fill="none" stroke="rgba(70,90,215,0.71)" stroke-width="0.50"/>
<path d="M290.2 399.1Q279.1 516.3 254.6 624.1" fill="none" stroke="rgba(70,90,215,0.46)" stroke-width="0.42"/>
<path d="M313.7 404.3Q276.2 520.3 232.5 617.1" fill="none" stroke="rgba(70,90,215,0.49)" stroke-width="0.42"/>
<path d="M315.7 405.0Q275.4 521.2 233.4 617.5" fill="none" stroke="rgba(70,90,215,0.45)" stroke-width="0.35"/>
<path d="M317.2 405.6Q278.1 519.8 231.0 616.4" fill="none" stroke="rgba(70,90,215,0.51)" stroke-width="0.50"/>
<path d="M318.8 406.2Q276.6 519.2 235.8 618.5" fill="none" stroke="rgba(70,90,215,0.45)" stroke-width="0.52"/>
<path d="M321.5 407.2Q279.0 516.7 226.3 614.2" fill="none" stroke="rgba(70,90,215,0.76)" stroke-width="0.37"/>
<path d="M323.6 408.1Q274.7 513.7 227.1 614.5" fill="none" stroke="rgba(70,90,215,0.52)" stroke-width="0.54"/>
<path d="M330.2 411.2Q276.9 518.7 219.8 610.5" fill="none" stroke="rgba(70,90,215,0.55)" stroke-width="0.39"/>
<path d="M334.8 413.7Q279.4 517.5 222.7 612.2" fill="none" stroke="rgba(70,90,215,0.56)" stroke-width="0.45"/>
<path d="M341.0 417.5Q273.9 517.7 215.1 607.5" fill="none" stroke="rgba(70,90,215,0.56)" stroke-width="0.50"/>
<path d="M346.1 421.0Q276.7 517.3 209.7 603.6" fill="none" stroke="rgba(70,90,215,0.70)" stroke-width="0.31"/>
<path d="M361.8 434.6Q276.7 515.0 195.5 590.5" fill="none" stroke="rgba(70,90,215,0.75)" stroke-width="0.30"/>
<path d="M366.0 439.2Q277.7 520.9 193.1 587.7" fill="none" stroke="rgba(70,90,215,0.45)" stroke-width="0.31"/>
<path d="M376.0 452.5Q278.3 516.6 186.4 579.0" fill="none" stroke="rgba(70,90,215,0.71)" stroke-width="0.53"/>
<path d="M382.3 463.3Q278.8 519.6 182.3 572.5" fill="none" stroke="rgba(70,90,215,0.28)" stroke-width="0.49"/>
<path d="M388.8 478.6Q277.2 517.0 175.3 558.4" fill="none" stroke="rgba(70,90,215,0.33)" stroke-width="0.31"/>
<path d="M394.1 500.8Q274.0 520.6 170.1 541.8" fill="none" stroke="rgba(70,90,215,0.29)" stroke-width="0.53"/>
<path d="M394.6 529.9Q276.6 518.4 167.5 511.5" fill="none" stroke="rgba(70,90,215,0.25)" stroke-width="0.38"/>
<path d="M391.7 546.2Q276.6 518.1 168.6 500.5" fill="none" stroke="rgba(70,90,215,0.30)" stroke-width="0.55"/>
<path d="M387.3 560.1Q276.3 520.5 173.9 480.2" fill="none" stroke="rgba(70,90,215,0.28)" stroke-width="0.40"/>
<path d="M377.1 580.5Q279.7 518.7 182.1 462.6" fill="none" stroke="rgba(70,90,215,0.27)" stroke-width="0.41"/>
<path d="M370.0 590.8Q278.4 519.9 184.0 459.4" fill="none" stroke="rgba(70,90,215,0.27)" stroke-width="0.51"/>
<path d="M361.8 600.2Q278.2 519.0 197.1 442.6" fill="none" stroke="rgba(70,90,215,0.29)" stroke-width="0.50"/>
<path d="M351.1 610.0Q272.3 518.6 201.0 438.6" fill="none" stroke="rgba(70,90,215,0.75)" stroke-width="0.37"/>
<path d="M346.1 613.8Q272.7 517.7 210.9 430.3" fill="none" stroke="rgba(70,90,215,0.79)" stroke-width="0.41"/>
<path d="M341.0 617.3Q277.6 519.4 213.1 428.7" fill="none" stroke="rgba(70,90,215,0.55)" stroke-width="0.40"/>
<path d="M335.7 620.6Q273.8 517.4 222.4 422.8" fill="none" stroke="rgba(70,90,215,0.79)" stroke-width="0.46"/>
<path d="M324.6 626.2Q277.7 515.6 223.9 421.9" fill="none" stroke="rgba(70,90,215,0.55)" stroke-width="0.50"/>
<path d="M318.8 628.6Q274.3 514.4 236.7 416.0" fill="none" stroke="rgba(70,90,215,0.72)" stroke-width="0.47"/>
<path d="M314.9 630.1Q272.6 517.7 236.3 416.1" fill="none" stroke="rgba(70,90,215,0.70)" stroke-width="0.37"/>
<path d="M310.9 631.3Q274.3 514.9 242.6 413.9" fill="none" stroke="rgba(70,90,215,0.55)" stroke-width="0.54"/>
<path d="M306.9 632.5Q274.8 515.0 239.9 414.8" fill="none" stroke="rgba(70,90,215,0.64)" stroke-width="0.36"/>
<path d="M302.9 633.5Q274.2 520.0 250.7 411.6" fill="none" stroke="rgba(70,90,215,0.68)" stroke-width="0.50"/>
<path d="M298.8 634.4Q278.2 514.3 253.5 411.0" fill="none" stroke="rgba(70,90,215,0.74)" stroke-width="0.39"/>
<path d="M294.7 635.1Q273.2 517.1 256.6 410.4" fill="none" stroke="rgba(70,90,215,0.79)" stroke-width="0.54"/>
<path d="M290.6 635.7Q272.8 517.9 255.3 410.6" fill="none" stroke="rgba(70,90,215,0.74)" stroke-width="0.53"/>
<path d="M286.5 636.1Q276.7 514.4 264.0 409.3" fill="none" stroke="rgba(70,90,215,0.71)" stroke-width="0.34"/>
<path d="M282.3 636.4Q276.6 514.2 267.1 409.0" fill="none" stroke="rgba(70,90,215,0.60)" stroke-width="0.46"/>
<path d="M300.9 400.9Q274.3 516.9 233.6 617.6" fill="none" stroke="rgba(80,90,210,0.36)" stroke-width="0.30"/>
<path d="M312.9 404.1Q275.6 516.9 213.7 606.5" fill="none" stroke="rgba(80,90,210,0.45)" stroke-width="0.30"/>
<path d="M335.7 414.2Q276.9 516.1 246.1 622.0" fill="none" stroke="rgba(80,90,210,0.30)" stroke-width="0.30"/>
<path d="M367.4 440.8Q278.2 517.3 238.9 619.6" fill="none" stroke="rgba(80,90,210,0.36)" stroke-width="0.30"/>
<path d="M344.4 419.8Q273.7 517.8 181.9 571.8" fill="none" stroke="rgba(80,90,210,0.51)" stroke-width="0.30"/>
<path d="M292.7 399.4Q274.2 515.3 199.2 594.3" fill="none" stroke="rgba(80,90,210,0.34)" stroke-width="0.30"/>
<path d="M335.7 620.6Q276.0 514.9 257.2 410.3" fill="none" stroke="rgba(80,90,210,0.43)" stroke-width="0.30"/>
<path d="M306.9 632.5Q276.2 515.1 206.2 434.1" fill="none" stroke="rgba(80,90,210,0.32)" stroke-width="0.30"/>
<path d="M292.7 635.4Q278.8 517.9 187.0 455.0" fill="none" stroke="rgba(80,90,210,0.38)" stroke-width="0.30"/>
<path d="M344.4 615.0Q275.6 514.6 247.9 412.3" fill="none" stroke="rgba(80,90,210,0.42)" stroke-width="0.30"/>
<path d="M393.4 538.1Q277.8 516.5 257.2 410.3" fill="none" stroke="rgba(80,90,210,0.48)" stroke-width="0.30"/>
<path d="M296.8 634.7Q273.4 518.4 173.9 554.6" fill="none" stroke="rgba(80,90,210,0.50)" stroke-width="0.30"/>
<path d="M313.7 404.3Q272.4 516.1 246.8 622.2" fill="none" stroke="rgba(232,40,84,0.77)" stroke-width="0.31"/>
<path d="M327.6 624.9Q279.2 520.9 233.9 417.1" fill="none" stroke="rgba(232,40,84,0.55)" stroke-width="0.31"/>
<path d="M358.4 431.2Q277.4 512.9 193.9 588.7" fill="none" stroke="rgba(125,80,185,0.51)" stroke-width="0.33"/>
<path d="M287.2 636.0Q279.0 518.4 268.3 408.9" fill="none" stroke="rgba(232,40,84,0.77)" stroke-width="0.43"/>
<path d="M319.4 628.4Q277.8 515.1 243.6 413.6" fill="none" stroke="rgba(232,40,84,0.73)" stroke-width="0.33"/>
<path d="M372.8 447.7Q272.9 519.8 193.7 588.4" fill="none" stroke="rgba(232,40,84,0.78)" stroke-width="0.36"/>
<path d="M316.7 405.4Q278.7 513.9 229.0 615.5" fill="none" stroke="rgba(232,40,84,0.58)" stroke-width="0.40"/>
<path d="M304.1 401.6Q275.7 512.8 247.1 622.3" fill="none" stroke="rgba(125,80,185,0.50)" stroke-width="0.38"/>
<path d="M313.9 630.4Q277.6 522.0 230.1 418.8" fill="none" stroke="rgba(125,80,185,0.56)" stroke-width="0.33"/>
<path d="M300.2 634.1Q279.5 519.5 248.7 412.1" fill="none" stroke="rgba(232,40,84,0.63)" stroke-width="0.35"/>
<path d="M303.2 401.4Q275.8 514.2 239.0 619.7" fill="none" stroke="rgba(232,40,84,0.71)" stroke-width="0.34"/>
<path d="M283.1 636.3Q274.5 513.0 269.1 408.8" fill="none" stroke="rgba(125,80,185,0.49)" stroke-width="0.34"/>
<path d="M285.0 636.2Q278.2 518.3 269.1 408.8" fill="none" stroke="rgba(125,80,185,0.63)" stroke-width="0.30"/>
<path d="M310.5 631.5Q276.1 514.7 236.7 416.0" fill="none" stroke="rgba(232,40,84,0.58)" stroke-width="0.44"/>
<path d="M314.0 404.4Q275.2 513.1 230.2 616.1" fill="none" stroke="rgba(232,40,84,0.77)" stroke-width="0.33"/>
<path d="M289.7 635.8Q278.4 521.2 254.2 410.8" fill="none" stroke="rgba(232,40,84,0.74)" stroke-width="0.42"/>
<path d="M342.4 418.4Q279.6 516.2 211.6 605.0" fill="none" stroke="rgba(232,40,84,0.55)" stroke-width="0.37"/>
<path d="M350.9 610.1Q279.8 519.0 204.4 435.6" fill="none" stroke="rgba(232,40,84,0.66)" stroke-width="0.44"/>
<path d="M360.9 433.7Q279.4 514.7 203.9 598.8" fill="none" stroke="rgba(232,40,84,0.65)" stroke-width="0.31"/>
<path d="M350.9 610.1Q276.8 516.7 199.2 440.4" fill="none" stroke="rgba(125,80,185,0.67)" stroke-width="0.39"/>
<path d="M310.3 631.5Q276.8 517.8 243.4 413.6" fill="none" stroke="rgba(232,40,84,0.51)" stroke-width="0.41"/>
<path d="M342.4 418.4Q279.8 516.3 207.7 602.0" fill="none" stroke="rgba(232,40,84,0.73)" stroke-width="0.30"/>
<path d="M282.1 636.4Q277.7 517.1 269.1 408.8" fill="none" stroke="rgba(125,80,185,0.59)" stroke-width="0.32"/>
<path d="M349.4 611.3Q273.4 520.3 202.9 436.9" fill="none" stroke="rgba(125,80,185,0.59)" stroke-width="0.38"/>
<path d="M313.91 404.41A119.15 119.15 0 0 1 315.48 404.95Q276.46 518.32 234.11 617.77A108.8 108.8 0 0 0 235.87 618.49Q276.46 518.32 313.91 404.41Z" fill="rgba(45,205,100,0.30)" stroke="rgba(30,150,90,0.45)" stroke-width="0.3"/>
<path d="M319.58 406.46A119.15 119.15 0 0 1 323.42 408.05Q274.51 517.21 228.75 615.35A108.8 108.8 0 0 0 232.19 616.95Q274.51 517.21 319.58 406.46Z" fill="rgba(45,205,100,0.30)" stroke="rgba(30,150,90,0.45)" stroke-width="0.3"/>
<path d="M350.11 424.02A119.15 119.15 0 0 1 353.80 427.07Q277.26 516.67 202.46 597.49A108.8 108.8 0 0 0 206.16 600.75Q277.26 516.67 350.11 424.02Z" fill="rgba(45,205,100,0.30)" stroke="rgba(30,150,90,0.45)" stroke-width="0.3"/>
<path d="M368.96 442.74A119.15 119.15 0 0 1 370.50 444.70Q276.49 517.69 189.90 583.78A108.8 108.8 0 0 0 191.07 585.28Q276.49 517.69 368.96 442.74Z" fill="rgba(45,205,100,0.30)" stroke="rgba(30,150,90,0.45)" stroke-width="0.3"/>
<path d="M332.04 622.60A119.15 119.15 0 0 1 325.51 625.82Q277.62 517.69 225.86 420.89A108.8 108.8 0 0 0 221.86 423.08Q277.62 517.69 332.04 622.60Z" fill="rgba(45,205,100,0.30)" stroke="rgba(30,150,90,0.45)" stroke-width="0.3"/>
<path d="M277.35 636.54A119.15 119.15 0 0 1 274.85 636.54Q275.96 518.21 271.73 408.69A108.8 108.8 0 0 0 269.84 408.78Q275.96 518.21 277.35 636.54Z" fill="rgba(45,205,100,0.30)" stroke="rgba(30,150,90,0.45)" stroke-width="0.3"/>
</g>
<defs><radialGradient id="glow"><stop offset="0" stop-color="#f42a40" stop-opacity="1"/><stop offset="0.18" stop-color="#f42a40" stop-opacity="0.9"/><stop offset="0.5" stop-color="#f42a40" stop-opacity="0.3"/><stop offset="1" stop-color="#f42a40" stop-opacity="0"/></radialGradient><radialGradient id="rayfade" gradientUnits="userSpaceOnUse" cx="276.1" cy="517.4" r="75"><stop offset="0" stop-color="#ee2440" stop-opacity="0.95"/><stop offset="0.25" stop-color="#ee2440" stop-opacity="0.75"/><stop offset="0.6" stop-color="#ee2440" stop-opacity="0.28"/><stop offset="1" stop-color="#ee2440" stop-opacity="0"/></radialGradient><radialGradient id="beamfade" gradientUnits="userSpaceOnUse" cx="276.1" cy="517.4" r="95"><stop offset="0" stop-color="#f02a44" stop-opacity="0.85"/><stop offset="0.45" stop-color="#f02a44" stop-opacity="0.5"/><stop offset="1" stop-color="#f02a44" stop-opacity="0"/></radialGradient><radialGradient id="beamfade2" gradientUnits="userSpaceOnUse" cx="276.1" cy="517.4" r="90"><stop offset="0" stop-color="#f02a44" stop-opacity="0.6"/><stop offset="0.5" stop-color="#f02a44" stop-opacity="0.25"/><stop offset="1" stop-color="#f02a44" stop-opacity="0"/></radialGradient></defs>
<path d="M276.1 517.4Q255.2 500.5 203.8 488.2Q249.3 515.0 276.1 517.4Z" fill="rgba(240,42,72,0.5)"/>
<path d="M276.1 517.4Q296.4 534.5 347.0 547.5Q302.5 520.1 276.1 517.4Z" fill="rgba(240,42,72,0.5)"/>
<path d="M276.1 517.4Q245.5 516.6 184.7 527.8Q246.4 525.0 276.1 517.4Z" fill="rgba(240,42,72,0.5)"/>
<path d="M276.1 517.4Q303.4 519.4 357.9 511.7Q302.8 511.6 276.1 517.4Z" fill="rgba(240,42,72,0.5)"/>
<path d="M276.1 517.4Q289.6 502.7 310.5 468.3Q285.3 499.7 276.1 517.4Z" fill="rgba(240,42,72,0.4)"/>
<path d="M276.1 517.4Q267.5 500.0 242.8 469.9Q262.7 503.4 276.1 517.4Z" fill="rgba(240,42,72,0.4)"/>
<path d="M276.1 517.4Q262.1 531.8 241.7 566.5Q267.4 535.5 276.1 517.4Z" fill="rgba(240,42,72,0.4)"/>
<path d="M276.1 517.4Q283.5 536.0 306.1 569.4Q288.5 533.1 276.1 517.4Z" fill="rgba(240,42,72,0.4)"/>
<path d="M276.1 517.4Q291.5 510.6 317.1 488.7Q287.8 505.3 276.1 517.4Z" fill="rgba(240,42,72,0.35)"/>
<path d="M276.1 517.4Q259.6 523.2 231.1 543.4Q262.9 528.8 276.1 517.4Z" fill="rgba(240,42,72,0.35)"/>
<path d="M276.1 517.4Q285.5 531.4 311.5 552.8Q290.1 526.8 276.1 517.4Z" fill="rgba(240,42,72,0.35)"/>
<path d="M276.1 517.4Q266.8 505.4 241.6 488.5Q262.6 510.3 276.1 517.4Z" fill="rgba(240,42,72,0.35)"/>
<path d="M276.1 517.4Q277.3 535.6 285.7 571.6Q281.2 534.9 276.1 517.4Z" fill="rgba(240,42,72,0.4)"/>
<path d="M276.1 517.4Q275.2 500.8 267.4 468.2Q271.3 501.5 276.1 517.4Z" fill="rgba(240,42,72,0.35)"/>
<path d="M276.1 517.4Q281.8 503.6 287.7 473.9Q278.1 502.6 276.1 517.4Z" fill="rgba(240,42,72,0.35)"/>
<path d="M276.1 517.4Q269.9 532.8 263.2 565.7Q273.7 533.8 276.1 517.4Z" fill="rgba(240,42,72,0.35)"/>
<path d="M276.1 517.4Q294.0 513.6 327.8 498.6Q292.3 508.7 276.1 517.4Z" fill="rgba(240,42,72,0.3)"/>
<path d="M276.1 517.4Q291.9 522.8 325.3 526.1Q292.8 517.7 276.1 517.4Z" fill="rgba(240,42,72,0.3)"/>
<path d="M276.1 517.4Q258.5 512.3 221.6 509.7Q257.8 517.4 276.1 517.4Z" fill="rgba(240,42,72,0.3)"/>
<g stroke="url(#rayfade)" fill="none">
<path d="M349.3 423.4Q275.0 516.1 204.7 599.5" stroke-width="0.31"/>
<path d="M346.2 613.7Q274.3 517.3 211.9 429.6" stroke-width="0.32"/>
<path d="M297.9 400.3Q275.5 517.1 252.5 623.6" stroke-width="0.49"/>
<path d="M366.4 439.6Q278.5 518.1 196.0 591.0" stroke-width="0.47"/>
<path d="M321.0 627.8Q277.5 517.7 233.9 417.1" stroke-width="0.40"/>
<path d="M334.9 413.8Q275.4 518.1 213.3 606.2" stroke-width="0.50"/>
<path d="M337.7 415.4Q274.3 517.9 211.4 604.8" stroke-width="0.35"/>
<path d="M395.2 521.4Q278.4 517.9 167.5 524.3" stroke-width="0.32"/>
<path d="M349.7 611.1Q278.4 516.9 201.6 438.1" stroke-width="0.48"/>
<path d="M354.4 607.2Q276.0 516.5 201.4 438.3" stroke-width="0.39"/>
<path d="M336.1 620.3Q278.2 516.3 214.3 427.9" stroke-width="0.37"/>
<path d="M389.2 480.0Q274.2 519.0 176.2 560.4" stroke-width="0.37"/>
<path d="M306.0 402.1Q275.6 515.0 249.1 622.8" stroke-width="0.40"/>
<path d="M395.1 523.8Q276.1 516.2 167.3 516.7" stroke-width="0.43"/>
<path d="M391.7 546.3Q276.5 518.3 169.6 495.3" stroke-width="0.35"/>
<path d="M303.6 633.3Q275.0 516.6 245.0 413.1" stroke-width="0.28"/>
<path d="M319.0 406.2Q276.4 515.9 228.2 615.1" stroke-width="0.46"/>
<path d="M374.6 584.4Q277.6 517.0 185.9 456.6" stroke-width="0.55"/>
<path d="M291.7 635.5Q277.4 516.2 258.8 410.0" stroke-width="0.36"/>
<path d="M369.7 443.7Q276.4 518.0 187.1 580.0" stroke-width="0.49"/>
<path d="M351.4 609.7Q276.4 516.9 203.0 436.8" stroke-width="0.33"/>
<path d="M378.2 456.0Q276.4 518.0 183.4 574.4" stroke-width="0.35"/>
<path d="M313.0 630.7Q276.1 515.7 246.1 412.8" stroke-width="0.33"/>
<path d="M292.6 635.4Q276.0 517.0 257.1 410.3" stroke-width="0.31"/>
<path d="M332.6 622.3Q277.5 516.1 225.4 421.2" stroke-width="0.38"/>
<path d="M389.3 554.6Q275.4 519.1 172.4 484.4" stroke-width="0.33"/>
<path d="M353.0 608.5Q275.1 515.2 196.5 443.3" stroke-width="0.26"/>
<path d="M387.8 558.8Q277.2 515.9 172.7 483.6" stroke-width="0.33"/>
<path d="M392.9 493.7Q276.9 516.9 169.9 541.0" stroke-width="0.28"/>
<path d="M328.1 410.2Q275.2 517.7 231.2 616.5" stroke-width="0.51"/>
<path d="M378.5 578.3Q274.7 517.1 177.0 472.5" stroke-width="0.40"/>
<path d="M363.4 436.3Q276.7 518.8 199.3 594.4" stroke-width="0.46"/>
<path d="M392.2 544.1Q275.5 515.1 167.9 505.9" stroke-width="0.48"/>
<path d="M346.8 613.3Q275.5 517.5 202.0 437.7" stroke-width="0.48"/>
<path d="M352.1 425.6Q276.1 519.5 201.8 596.9" stroke-width="0.34"/>
<path d="M311.1 403.5Q275.2 519.6 240.0 620.0" stroke-width="0.34"/>
<path d="M394.8 527.8Q276.8 517.1 167.4 513.0" stroke-width="0.43"/>
<path d="M394.6 529.6Q277.5 517.1 167.7 508.6" stroke-width="0.46"/>
<path d="M393.8 535.7Q278.2 518.3 167.9 505.7" stroke-width="0.54"/>
<path d="M388.1 476.7Q276.9 517.4 178.3 565.1" stroke-width="0.27"/>
<path d="M321.5 407.2Q276.2 515.7 226.2 614.1" stroke-width="0.44"/>
<path d="M303.6 401.5Q274.4 518.0 243.2 621.1" stroke-width="0.37"/>
<path d="M392.6 492.3Q277.7 517.9 173.4 553.2" stroke-width="0.32"/>
<path d="M368.7 592.4Q275.8 515.7 190.4 450.3" stroke-width="0.32"/>
<path d="M391.3 486.8Q274.4 515.6 173.6 554.0" stroke-width="0.28"/>
<path d="M395.2 519.6Q275.6 515.1 167.4 521.3" stroke-width="0.48"/>
<path d="M383.3 569.5Q275.0 515.4 177.2 472.0" stroke-width="0.46"/>
<path d="M373.2 586.5Q277.4 516.6 181.8 463.1" stroke-width="0.43"/>
<path d="M336.8 620.0Q276.3 517.4 223.4 422.2" stroke-width="0.34"/>
<path d="M382.0 462.7Q277.2 518.9 182.4 572.7" stroke-width="0.27"/>
<path d="M380.5 459.9Q276.0 515.7 178.4 565.4" stroke-width="0.28"/>
<path d="M293.6 635.3Q276.5 518.8 258.9 410.0" stroke-width="0.44"/>
<path d="M373.5 586.1Q277.5 517.0 181.7 463.3" stroke-width="0.33"/>
<path d="M330.4 623.4Q275.6 516.4 218.3 425.2" stroke-width="0.43"/>
<path d="M375.9 452.3Q277.7 516.8 185.9 578.3" stroke-width="0.38"/>
<path d="M384.7 566.4Q276.8 518.8 173.3 481.9" stroke-width="0.33"/>
<path d="M355.6 428.6Q278.3 517.9 196.8 591.9" stroke-width="0.53"/>
<path d="M368.6 592.5Q275.6 517.4 183.6 460.2" stroke-width="0.43"/>
<path d="M369.5 591.4Q277.9 517.5 184.7 458.4" stroke-width="0.28"/>
<path d="M381.5 461.9Q277.3 516.5 181.9 571.9" stroke-width="0.29"/>
<path d="M346.5 613.5Q275.6 517.3 211.8 429.6" stroke-width="0.31"/>
<path d="M392.7 492.8Q276.4 519.6 171.7 548.0" stroke-width="0.50"/>
<path d="M304.2 633.2Q278.0 517.6 252.3 411.2" stroke-width="0.27"/>
<path d="M312.8 630.7Q276.2 516.3 242.8 413.8" stroke-width="0.27"/>
<path d="M339.6 618.2Q274.9 516.2 215.9 426.8" stroke-width="0.49"/>
<path d="M385.9 471.1Q275.3 518.5 181.2 570.6" stroke-width="0.44"/>
<path d="M316.0 629.7Q277.7 518.1 230.6 418.6" stroke-width="0.45"/>
<path d="M355.9 429.0Q276.5 517.6 204.2 599.1" stroke-width="0.40"/>
<path d="M373.6 585.8Q276.5 518.1 184.7 458.4" stroke-width="0.53"/>
<path d="M393.1 540.2Q275.3 515.4 168.1 504.0" stroke-width="0.41"/>
<path d="M323.1 407.9Q276.2 517.9 224.6 613.2" stroke-width="0.36"/>
<path d="M393.4 538.1Q277.1 519.3 168.3 502.6" stroke-width="0.40"/>
<path d="M348.4 422.7Q276.9 515.2 203.5 598.5" stroke-width="0.45"/>
<path d="M362.9 435.7Q277.6 516.4 193.4 588.1" stroke-width="0.52"/>
<path d="M288.6 635.9Q278.4 516.5 258.4 410.0" stroke-width="0.49"/>
<path d="M300.7 400.8Q274.6 516.1 250.2 623.1" stroke-width="0.48"/>
<path d="M380.0 575.7Q277.8 516.6 176.1 474.5" stroke-width="0.51"/>
<path d="M360.3 433.1Q274.0 516.7 193.3 588.0" stroke-width="0.47"/>
<path d="M318.4 628.8Q277.5 518.2 232.6 417.7" stroke-width="0.30"/>
<path d="M393.0 540.6Q275.5 518.1 169.1 497.5" stroke-width="0.26"/>
<path d="M393.9 499.7Q278.1 517.7 169.7 540.2" stroke-width="0.31"/>
<path d="M332.2 412.3Q273.8 517.1 215.8 608.0" stroke-width="0.40"/>
<path d="M337.0 415.0Q274.3 518.3 220.6 611.0" stroke-width="0.48"/>
<path d="M357.4 604.5Q276.1 519.0 199.8 439.9" stroke-width="0.36"/>
<path d="M395.1 523.1Q274.5 517.0 167.4 521.6" stroke-width="0.26"/>
<path d="M337.3 619.6Q276.8 515.4 217.9 425.5" stroke-width="0.47"/>
<path d="M280.5 636.5Q276.0 517.5 265.3 409.1" stroke-width="0.45"/>
<path d="M389.2 554.8Q277.2 517.4 171.3 488.3" stroke-width="0.32"/>
<path d="M361.7 600.3Q275.5 517.5 197.5 442.2" stroke-width="0.36"/>
<path d="M336.3 620.2Q274.6 517.8 217.8 425.5" stroke-width="0.44"/>
<path d="M387.2 560.4Q277.5 515.8 173.4 481.5" stroke-width="0.36"/>
<path d="M370.4 444.6Q276.7 515.1 187.4 580.4" stroke-width="0.31"/>
<path d="M329.7 623.8Q277.3 518.0 228.6 419.5" stroke-width="0.44"/>
<path d="M343.9 419.4Q275.9 519.5 207.4 601.8" stroke-width="0.34"/>
<path d="M363.1 436.0Q274.0 517.4 199.1 594.3" stroke-width="0.32"/>
<path d="M372.5 587.4Q275.2 516.2 183.1 461.0" stroke-width="0.31"/>
<path d="M342.4 418.4Q275.6 515.9 218.2 609.5" stroke-width="0.29"/>
<path d="M319.2 628.5Q278.2 517.7 236.0 416.2" stroke-width="0.43"/>
<path d="M394.8 507.0Q277.6 517.0 168.5 533.7" stroke-width="0.44"/>
<path d="M381.8 572.3Q274.9 519.2 175.9 474.9" stroke-width="0.44"/>
<path d="M395.1 511.6Q276.5 519.6 167.9 528.6" stroke-width="0.26"/>
<path d="M380.6 574.6Q276.4 519.3 177.5 471.5" stroke-width="0.42"/>
<path d="M325.8 409.1Q277.2 519.3 226.8 614.4" stroke-width="0.35"/>
<path d="M384.5 468.0Q277.1 517.7 183.1 573.9" stroke-width="0.30"/>
<path d="M383.7 568.7Q276.3 518.2 177.3 471.8" stroke-width="0.41"/>
<path d="M334.8 413.7Q276.2 516.3 220.3 610.8" stroke-width="0.46"/>
<path d="M393.0 540.2Q276.2 519.3 167.6 508.9" stroke-width="0.28"/>
<path d="M359.5 432.3Q276.8 515.8 198.2 593.4" stroke-width="0.45"/>
<path d="M299.9 400.7Q275.1 519.6 251.7 623.4" stroke-width="0.36"/>
<path d="M348.4 612.1Q273.7 517.4 200.8 438.9" stroke-width="0.48"/>
<path d="M389.4 554.1Q276.7 517.1 169.7 494.7" stroke-width="0.54"/>
<path d="M350.8 610.2Q275.1 517.2 206.3 433.9" stroke-width="0.35"/>
<path d="M376.9 580.9Q274.4 518.8 181.9 462.9" stroke-width="0.27"/>
<path d="M377.7 455.2Q275.1 519.4 186.6 579.3" stroke-width="0.48"/>
<path d="M344.9 420.1Q277.6 518.7 213.0 606.0" stroke-width="0.38"/>
<path d="M366.2 439.4Q277.2 516.2 194.6 589.5" stroke-width="0.46"/>
<path d="M383.1 569.8Q274.7 516.9 175.6 475.7" stroke-width="0.31"/>
<path d="M395.0 524.8Q275.6 518.3 167.3 519.5" stroke-width="0.52"/>
<path d="M394.1 500.6Q277.2 517.6 170.8 544.9" stroke-width="0.51"/>
<path d="M385.7 470.7Q276.3 519.4 178.5 565.6" stroke-width="0.39"/>
<path d="M361.2 600.8Q275.2 518.3 195.1 444.8" stroke-width="0.43"/>
<path d="M334.6 621.2Q274.7 517.6 222.0 423.0" stroke-width="0.52"/>
<path d="M330.2 623.6Q275.2 515.4 218.4 425.2" stroke-width="0.45"/>
<path d="M290.7 635.7Q276.2 519.9 264.0 409.3" stroke-width="0.35"/>
<path d="M390.7 484.9Q276.9 518.8 171.9 548.6" stroke-width="0.44"/>
<path d="M375.0 451.0Q276.6 515.5 187.7 580.9" stroke-width="0.47"/>
<path d="M347.0 613.2Q277.9 516.0 211.9 429.5" stroke-width="0.54"/>
<path d="M394.9 526.5Q273.6 517.2 167.4 511.9" stroke-width="0.45"/>
<path d="M394.3 502.4Q275.8 518.3 168.9 536.2" stroke-width="0.37"/>
<path d="M341.2 417.6Q277.5 518.3 220.0 610.6" stroke-width="0.48"/>
<path d="M313.3 404.2Q277.5 518.5 234.5 617.9" stroke-width="0.34"/>
<path d="M394.9 507.8Q274.8 518.2 168.0 529.7" stroke-width="0.47"/>
<path d="M334.9 413.8Q275.4 515.2 221.0 611.2" stroke-width="0.54"/>
<path d="M371.8 446.5Q275.3 519.3 187.6 580.6" stroke-width="0.50"/>
<path d="M340.7 417.3Q277.5 516.8 216.1 608.1" stroke-width="0.44"/>
<path d="M338.7 618.8Q276.1 517.3 212.8 428.9" stroke-width="0.35"/>
<path d="M349.8 423.8Q276.2 517.8 208.2 602.4" stroke-width="0.49"/>
<path d="M351.6 425.2Q273.9 516.6 203.8 598.7" stroke-width="0.50"/>
<path d="M384.0 567.9Q276.2 516.6 173.2 482.1" stroke-width="0.53"/>
<path d="M381.4 461.7Q276.4 518.9 183.5 574.5" stroke-width="0.49"/>
<path d="M327.4 624.9Q275.9 516.2 228.0 419.8" stroke-width="0.35"/>
<path d="M380.7 460.4Q277.9 515.6 182.1 572.2" stroke-width="0.28"/>
<path d="M290.6 635.7Q274.1 517.9 264.7 409.2" stroke-width="0.49"/>
<path d="M355.2 428.3Q278.4 517.1 200.7 595.8" stroke-width="0.52"/>
<path d="M325.2 408.8Q273.7 517.6 224.4 613.1" stroke-width="0.30"/>
<path d="M392.3 543.7Q276.8 515.4 168.0 505.2" stroke-width="0.26"/>
<path d="M381.6 462.1Q274.8 515.9 184.4 576.0" stroke-width="0.27"/>
<path d="M295.4 635.0Q274.3 518.1 261.3 409.6" stroke-width="0.36"/>
<path d="M386.2 562.9Q274.1 518.2 172.7 483.4" stroke-width="0.31"/>
<path d="M379.7 458.6Q276.2 518.0 179.7 567.8" stroke-width="0.52"/>
<path d="M347.7 422.2Q275.6 518.6 209.2 603.2" stroke-width="0.36"/>
<path d="M393.1 539.7Q275.5 517.3 167.6 508.8" stroke-width="0.27"/>
<path d="M359.1 431.9Q275.4 518.5 202.2 597.3" stroke-width="0.50"/>
<path d="M378.0 579.1Q276.4 515.3 179.7 467.0" stroke-width="0.34"/>
<path d="M384.9 566.0Q274.0 516.9 175.6 475.6" stroke-width="0.44"/>
<path d="M303.3 633.4Q274.9 515.2 244.0 413.4" stroke-width="0.41"/>
<path d="M311.0 631.3Q275.9 516.1 235.1 416.6" stroke-width="0.48"/>
<path d="M394.0 499.9Q276.1 518.7 169.8 540.7" stroke-width="0.51"/>
<path d="M380.6 574.7Q277.1 518.3 178.6 469.1" stroke-width="0.54"/>
<path d="M359.4 432.2Q275.5 515.7 198.7 593.9" stroke-width="0.42"/>
<path d="M288.6 635.9Q276.2 519.0 264.3 409.2" stroke-width="0.38"/>
<path d="M373.0 586.7Q276.0 519.5 185.4 457.3" stroke-width="0.38"/>
<path d="M302.1 401.1Q275.3 518.2 249.8 623.0" stroke-width="0.45"/>
<path d="M280.9 636.5Q274.5 515.7 269.1 408.8" stroke-width="0.40"/>
<path d="M388.7 556.5Q277.5 518.0 173.2 482.1" stroke-width="0.36"/>
<path d="M386.3 472.1Q278.0 518.1 179.6 567.6" stroke-width="0.54"/>
<path d="M366.8 440.1Q275.0 519.3 196.0 591.1" stroke-width="0.32"/>
<path d="M352.2 609.1Q274.3 516.2 198.8 440.8" stroke-width="0.45"/>
<path d="M325.1 408.8Q277.1 516.0 221.2 611.4" stroke-width="0.51"/>
<path d="M386.9 561.2Q274.3 518.8 171.3 488.3" stroke-width="0.39"/>
<path d="M311.1 403.5Q276.8 519.2 243.3 621.1" stroke-width="0.44"/>
<path d="M394.9 508.4Q277.5 517.1 168.5 533.6" stroke-width="0.45"/>
<path d="M359.7 432.5Q276.5 518.2 198.7 593.9" stroke-width="0.35"/>
<path d="M334.7 413.6Q275.0 515.9 220.8 611.1" stroke-width="0.49"/>
<path d="M395.2 518.8Q275.9 515.8 167.8 528.2" stroke-width="0.48"/>
<path d="M286.8 636.1Q276.1 518.9 262.0 409.5" stroke-width="0.40"/>
<path d="M383.1 465.0Q274.5 518.6 184.7 576.5" stroke-width="0.49"/>
<path d="M354.7 606.9Q276.6 515.9 204.8 435.2" stroke-width="0.44"/>
<path d="M315.2 404.8Q275.8 516.2 230.4 616.1" stroke-width="0.39"/>
<path d="M374.8 450.6Q274.1 518.4 183.5 574.5" stroke-width="0.53"/>
<path d="M350.4 610.5Q274.8 519.4 202.8 437.0" stroke-width="0.52"/>
<path d="M355.9 428.9Q276.6 515.3 203.2 598.2" stroke-width="0.33"/>
<path d="M394.9 507.9Q277.2 518.1 167.6 525.8" stroke-width="0.45"/>
<path d="M310.2 631.6Q273.9 517.8 248.0 412.3" stroke-width="0.54"/>
<path d="M384.7 468.3Q276.0 519.6 182.9 573.5" stroke-width="0.29"/>
<path d="M392.5 543.0Q276.7 519.3 169.9 493.7" stroke-width="0.41"/>
<path d="M290.0 635.7Q273.7 517.5 259.1 409.9" stroke-width="0.48"/>
<path d="M343.6 419.2Q274.1 518.9 208.0 602.2" stroke-width="0.54"/>
<path d="M395.0 524.4Q276.3 518.7 167.3 518.2" stroke-width="0.31"/>
<path d="M350.1 424.1Q277.9 518.0 203.5 598.4" stroke-width="0.43"/>
</g>
<circle cx="276.1" cy="517.4" r="20" fill="url(#glow)"/>
<rect x="269.2" y="403.7" width="2.6" height="2.6" fill="#f08a3c"/>
<rect x="276.6" y="393.8" width="2.2" height="2.3" fill="#9fe08a"/>
<rect x="269.5" y="628.4" width="2.3" height="2.4" fill="#9fe08a"/>
<rect x="274.8" y="639.3" width="3.2" height="2.6" fill="#f08a3c"/>
<g stroke="#4176ee" stroke-width="0.85" stroke-linecap="butt">
<line x1="280.11" y1="389.66" x2="280.32" y2="383.27"/>
<line x1="286.13" y1="389.99" x2="286.75" y2="382.02"/>
<line x1="298.51" y1="391.58" x2="299.48" y2="386.17"/>
<line x1="317.71" y1="396.56" x2="318.36" y2="394.67"/>
<line x1="319.60" y1="397.23" x2="322.15" y2="390.18"/>
<line x1="321.07" y1="397.77" x2="323.53" y2="391.22"/>
<line x1="325.83" y1="399.67" x2="327.00" y2="396.91"/>
<line x1="334.12" y1="403.53" x2="334.80" y2="402.19"/>
<line x1="343.26" y1="408.67" x2="344.83" y2="406.11"/>
<line x1="344.58" y1="409.49" x2="347.26" y2="405.27"/>
<line x1="349.40" y1="412.71" x2="351.12" y2="410.25"/>
<line x1="351.58" y1="414.27" x2="355.12" y2="409.43"/>
<line x1="357.39" y1="418.79" x2="358.66" y2="417.24"/>
<line x1="367.72" y1="428.30" x2="369.87" y2="426.21"/>
<line x1="371.82" y1="432.72" x2="372.94" y2="431.72"/>
<line x1="382.55" y1="446.68" x2="385.05" y2="445.02"/>
<line x1="386.10" y1="452.34" x2="388.25" y2="451.07"/>
<line x1="392.21" y1="464.00" x2="394.02" y2="463.16"/>
<line x1="394.43" y1="469.11" x2="396.28" y2="468.36"/>
<line x1="395.88" y1="472.85" x2="397.76" y2="472.16"/>
<line x1="397.85" y1="478.54" x2="399.28" y2="478.09"/>
<line x1="399.77" y1="485.19" x2="402.68" y2="484.43"/>
<line x1="401.96" y1="495.21" x2="404.91" y2="494.69"/>
<line x1="402.50" y1="498.51" x2="404.47" y2="498.21"/>
<line x1="403.43" y1="506.48" x2="407.42" y2="506.14"/>
<line x1="403.82" y1="512.94" x2="405.32" y2="512.89"/>
<line x1="403.82" y1="521.86" x2="405.32" y2="521.91"/>
<line x1="402.78" y1="534.30" x2="405.26" y2="534.63"/>
<line x1="400.10" y1="548.32" x2="401.56" y2="548.68"/>
<line x1="393.91" y1="566.92" x2="397.14" y2="568.28"/>
<line x1="390.27" y1="574.82" x2="393.40" y2="576.40"/>
<line x1="382.05" y1="588.86" x2="383.29" y2="589.70"/>
<line x1="372.55" y1="601.24" x2="373.68" y2="602.23"/>
<line x1="359.27" y1="614.43" x2="360.57" y2="615.95"/>
<line x1="347.01" y1="623.72" x2="349.23" y2="627.05"/>
<line x1="336.10" y1="630.24" x2="336.80" y2="631.57"/>
<line x1="326.04" y1="635.04" x2="326.82" y2="636.88"/>
<line x1="315.80" y1="638.88" x2="317.05" y2="642.68"/>
<line x1="309.18" y1="640.85" x2="309.69" y2="642.78"/>
<line x1="298.95" y1="643.14" x2="299.76" y2="647.57"/>
<line x1="293.89" y1="643.96" x2="294.16" y2="645.94"/>
<line x1="289.01" y1="644.55" x2="289.32" y2="647.53"/>
<line x1="283.90" y1="644.96" x2="284.09" y2="647.96"/>
<line x1="260.05" y1="633.09" x2="259.08" y2="640.03"/>
<line x1="264.91" y1="633.66" x2="264.71" y2="635.65"/>
<line x1="251.42" y1="631.56" x2="250.78" y2="634.49"/>
<line x1="249.83" y1="631.21" x2="249.04" y2="634.62"/>
<line x1="248.24" y1="630.83" x2="247.64" y2="633.26"/>
<line x1="240.01" y1="628.48" x2="239.54" y2="629.91"/>
<line x1="229.90" y1="624.67" x2="228.71" y2="627.43"/>
<line x1="228.04" y1="623.85" x2="226.39" y2="627.50"/>
<line x1="226.37" y1="623.08" x2="224.88" y2="626.25"/>
<line x1="224.90" y1="622.38" x2="224.02" y2="624.18"/>
<line x1="217.70" y1="618.55" x2="216.95" y2="619.85"/>
<line x1="211.80" y1="614.91" x2="210.15" y2="617.41"/>
<line x1="204.67" y1="609.81" x2="202.53" y2="612.58"/>
<line x1="197.95" y1="604.20" x2="196.94" y2="605.31"/>
<line x1="190.12" y1="596.46" x2="188.28" y2="598.15"/>
<line x1="184.44" y1="589.79" x2="182.87" y2="591.03"/>
<line x1="176.83" y1="578.95" x2="174.71" y2="580.27"/>
<line x1="171.21" y1="568.78" x2="167.62" y2="570.54"/>
<line x1="168.59" y1="563.04" x2="167.20" y2="563.62"/>
<line x1="165.08" y1="553.69" x2="162.70" y2="554.46"/>
<line x1="162.34" y1="543.87" x2="159.90" y2="544.44"/>
<line x1="160.35" y1="533.05" x2="157.38" y2="533.45"/>
<line x1="159.37" y1="521.48" x2="157.87" y2="521.53"/>
<line x1="159.74" y1="507.22" x2="156.76" y2="506.96"/>
<line x1="160.35" y1="501.75" x2="158.37" y2="501.48"/>
<line x1="162.29" y1="491.13" x2="160.83" y2="490.79"/>
<line x1="165.66" y1="479.37" x2="163.77" y2="478.72"/>
<line x1="167.20" y1="475.16" x2="164.41" y2="474.08"/>
<line x1="168.99" y1="470.83" x2="166.69" y2="469.83"/>
<line x1="173.94" y1="460.77" x2="172.63" y2="460.05"/>
<line x1="182.21" y1="447.92" x2="181.00" y2="447.03"/>
<line x1="186.63" y1="442.32" x2="185.09" y2="441.04"/>
<line x1="188.35" y1="440.31" x2="186.47" y2="438.66"/>
<line x1="195.70" y1="432.68" x2="193.64" y2="430.50"/>
<line x1="203.71" y1="425.74" x2="202.16" y2="423.78"/>
<line x1="206.95" y1="423.27" x2="204.58" y2="420.04"/>
<line x1="210.96" y1="420.45" x2="209.28" y2="417.96"/>
<line x1="219.47" y1="415.24" x2="218.75" y2="413.93"/>
<line x1="232.72" y1="408.95" x2="231.61" y2="406.17"/>
<line x1="236.34" y1="407.57" x2="234.30" y2="401.93"/>
<line x1="242.15" y1="405.64" x2="241.56" y2="403.73"/>
<line x1="249.83" y1="403.59" x2="249.38" y2="401.64"/>
<line x1="256.82" y1="402.20" x2="256.41" y2="399.74"/>
<line x1="263.89" y1="401.24" x2="263.68" y2="399.25"/>
</g>
</svg></body></html>
